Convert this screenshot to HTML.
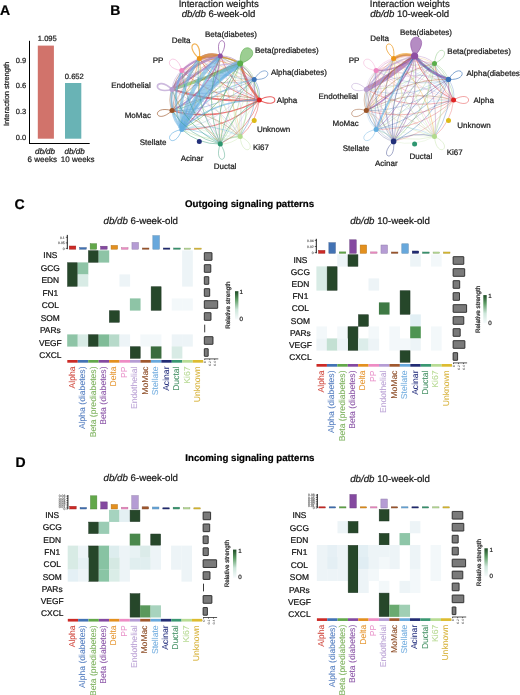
<!DOCTYPE html>
<html><head><meta charset="utf-8"><title>Figure</title>
<style>
html,body{margin:0;padding:0;background:#fff;}
body{width:520px;height:695px;overflow:hidden;}
svg{display:block;}
text{font-family:"Liberation Sans", Arial, Helvetica, sans-serif;stroke-width:0.22px;paint-order:stroke;text-rendering:geometricPrecision;}
</style></head><body>
<svg width="520" height="695" viewBox="0 0 520 695">
<rect x="0" y="0" width="520" height="695" fill="#fff"/>
<text x="0.00" y="14.50" font-size="14" font-weight="bold" fill="#000" stroke="#000">A</text>
<line x1="29.50" y1="40.80" x2="29.50" y2="143.50" stroke="#000" stroke-width="1.0"/>
<line x1="29.00" y1="143.50" x2="89.70" y2="143.50" stroke="#000" stroke-width="1.0"/>
<text x="26.20" y="62.60" font-size="7.5" text-anchor="end" fill="#222" stroke="#222">0.9</text>
<text x="26.20" y="88.40" font-size="7.5" text-anchor="end" fill="#222" stroke="#222">0.6</text>
<text x="26.20" y="114.00" font-size="7.5" text-anchor="end" fill="#222" stroke="#222">0.3</text>
<text x="26.20" y="139.60" font-size="7.5" text-anchor="end" fill="#222" stroke="#222">0.0</text>
<text transform="translate(8.60,93.90) rotate(-90)" font-size="7.5" text-anchor="middle" fill="#1a1a1a" stroke="#1a1a1a">Interaction strength</text>
<rect x="37.80" y="45.60" width="16.10" height="93.10" fill="#D1736B"/>
<rect x="65.00" y="83.00" width="16.30" height="55.70" fill="#69B3B5"/>
<text x="37.80" y="41.20" font-size="7.6" fill="#1a1a1a" stroke="#1a1a1a">1.095</text>
<text x="64.80" y="78.90" font-size="7.6" fill="#1a1a1a" stroke="#1a1a1a">0.652</text>
<text x="35.00" y="154.40" font-size="8" font-style="italic" fill="#1a1a1a" stroke="#1a1a1a">db/db</text>
<text x="27.60" y="161.50" font-size="8" fill="#1a1a1a" stroke="#1a1a1a">6 weeks</text>
<text x="64.60" y="154.40" font-size="8" font-style="italic" fill="#1a1a1a" stroke="#1a1a1a">db/db</text>
<text x="60.80" y="161.50" font-size="8" fill="#1a1a1a" stroke="#1a1a1a">10 weeks</text>
<text x="110.20" y="14.50" font-size="14" font-weight="bold" fill="#000" stroke="#000">B</text>
<text x="218.70" y="6.90" font-size="9.6" text-anchor="middle" fill="#1a1a1a" stroke="#1a1a1a">Interaction weights</text>
<text x="218.6" y="16.5" font-size="9.6" text-anchor="middle" fill="#1a1a1a" stroke="#1a1a1a"><tspan font-style="italic">db/db</tspan> 6-week-old</text>
<text x="409.80" y="6.90" font-size="9.6" text-anchor="middle" fill="#1a1a1a" stroke="#1a1a1a">Interaction weights</text>
<text x="409.7" y="16.5" font-size="9.6" text-anchor="middle" fill="#1a1a1a" stroke="#1a1a1a"><tspan font-style="italic">db/db</tspan> 10-week-old</text>
<path d="M259.3,100.0 Q252.6,90.7 254.2,79.4" fill="none" stroke="#E02424" stroke-width="0.38" stroke-opacity="0.5" stroke-linecap="butt"/>
<path d="M259.3,100.0 Q246.1,83.7 240.2,63.5" fill="none" stroke="#E02424" stroke-width="2.50" stroke-opacity="0.62" stroke-linecap="butt"/>
<path d="M259.3,100.0 Q231.0,85.8 220.3,56.0" fill="none" stroke="#E02424" stroke-width="1.00" stroke-opacity="0.5" stroke-linecap="butt"/>
<path d="M259.3,100.0 Q221.0,91.3 199.3,58.6" fill="none" stroke="#E02424" stroke-width="1.00" stroke-opacity="0.5" stroke-linecap="butt"/>
<path d="M259.3,100.0 Q214.7,100.8 181.8,70.6" fill="none" stroke="#E02424" stroke-width="0.80" stroke-opacity="0.5" stroke-linecap="butt"/>
<path d="M259.3,100.0 Q214.6,103.4 172.0,89.4" fill="none" stroke="#E02424" stroke-width="1.80" stroke-opacity="0.62" stroke-linecap="butt"/>
<path d="M259.3,100.0 Q217.8,122.8 172.0,110.6" fill="none" stroke="#E02424" stroke-width="1.50" stroke-opacity="0.62" stroke-linecap="butt"/>
<path d="M259.3,100.0 Q226.4,130.2 181.8,129.4" fill="none" stroke="#E02424" stroke-width="1.20" stroke-opacity="0.5" stroke-linecap="butt"/>
<path d="M259.3,100.0 Q248.6,129.8 220.3,144.0" fill="none" stroke="#E02424" stroke-width="0.80" stroke-opacity="0.5" stroke-linecap="butt"/>
<path d="M259.3,100.0 Q257.0,122.1 240.2,136.5" fill="none" stroke="#E02424" stroke-width="0.80" stroke-opacity="0.5" stroke-linecap="butt"/>
<path d="M254.2,79.4 Q260.9,88.7 259.3,100.0" fill="none" stroke="#3A72B8" stroke-width="0.81" stroke-opacity="0.5" stroke-linecap="butt"/>
<path d="M254.2,79.4 Q244.0,74.3 240.2,63.5" fill="none" stroke="#3A72B8" stroke-width="0.76" stroke-opacity="0.5" stroke-linecap="butt"/>
<path d="M254.2,79.4 Q232.6,74.5 220.3,56.0" fill="none" stroke="#3A72B8" stroke-width="0.45" stroke-opacity="0.5" stroke-linecap="butt"/>
<path d="M254.2,79.4 Q222.6,80.0 199.3,58.6" fill="none" stroke="#3A72B8" stroke-width="0.60" stroke-opacity="0.5" stroke-linecap="butt"/>
<path d="M254.2,79.4 Q216.3,89.5 181.8,70.6" fill="none" stroke="#3A72B8" stroke-width="0.57" stroke-opacity="0.5" stroke-linecap="butt"/>
<path d="M254.2,79.4 Q215.1,100.9 172.0,89.4" fill="none" stroke="#3A72B8" stroke-width="0.69" stroke-opacity="0.5" stroke-linecap="butt"/>
<path d="M254.2,79.4 Q219.3,111.5 172.0,110.6" fill="none" stroke="#3A72B8" stroke-width="0.77" stroke-opacity="0.5" stroke-linecap="butt"/>
<path d="M254.2,79.4 Q228.0,118.9 181.8,129.4" fill="none" stroke="#3A72B8" stroke-width="0.36" stroke-opacity="0.5" stroke-linecap="butt"/>
<path d="M254.2,79.4 Q250.2,118.5 220.3,144.0" fill="none" stroke="#3A72B8" stroke-width="0.32" stroke-opacity="0.5" stroke-linecap="butt"/>
<path d="M254.2,79.4 Q258.6,110.7 240.2,136.5" fill="none" stroke="#3A72B8" stroke-width="0.80" stroke-opacity="0.5" stroke-linecap="butt"/>
<path d="M240.2,63.5 Q257.0,77.9 259.3,100.0" fill="none" stroke="#5AAE4A" stroke-width="1.00" stroke-opacity="0.5" stroke-linecap="butt"/>
<path d="M240.2,63.5 Q250.4,68.7 254.2,79.4" fill="none" stroke="#5AAE4A" stroke-width="0.56" stroke-opacity="0.5" stroke-linecap="butt"/>
<path d="M240.2,63.5 Q228.7,63.7 220.3,56.0" fill="none" stroke="#5AAE4A" stroke-width="0.76" stroke-opacity="0.5" stroke-linecap="butt"/>
<path d="M240.2,63.5 Q220.7,52.9 199.3,58.6" fill="none" stroke="#5AAE4A" stroke-width="1.20" stroke-opacity="0.5" stroke-linecap="butt"/>
<path d="M240.2,63.5 Q212.4,78.7 181.8,70.6" fill="none" stroke="#5AAE4A" stroke-width="0.30" stroke-opacity="0.5" stroke-linecap="butt"/>
<path d="M240.2,63.5 Q206.9,78.5 172.0,89.4" fill="none" stroke="#5AAE4A" stroke-width="3.50" stroke-opacity="0.62" stroke-linecap="butt"/>
<path d="M240.2,63.5 Q215.5,100.7 172.0,110.6" fill="none" stroke="#5AAE4A" stroke-width="1.00" stroke-opacity="0.5" stroke-linecap="butt"/>
<path d="M240.2,63.5 Q224.2,108.1 181.8,129.4" fill="none" stroke="#5AAE4A" stroke-width="1.00" stroke-opacity="0.5" stroke-linecap="butt"/>
<path d="M240.2,63.5 Q246.3,107.7 220.3,144.0" fill="none" stroke="#5AAE4A" stroke-width="0.57" stroke-opacity="0.5" stroke-linecap="butt"/>
<path d="M240.2,63.5 Q254.7,100.0 240.2,136.5" fill="none" stroke="#5AAE4A" stroke-width="0.73" stroke-opacity="0.5" stroke-linecap="butt"/>
<path d="M220.3,56.0 Q248.6,70.2 259.3,100.0" fill="none" stroke="#8E4EA3" stroke-width="0.44" stroke-opacity="0.5" stroke-linecap="butt"/>
<path d="M220.3,56.0 Q242.0,60.9 254.2,79.4" fill="none" stroke="#8E4EA3" stroke-width="0.87" stroke-opacity="0.5" stroke-linecap="butt"/>
<path d="M220.3,56.0 Q231.8,55.8 240.2,63.5" fill="none" stroke="#8E4EA3" stroke-width="0.84" stroke-opacity="0.5" stroke-linecap="butt"/>
<path d="M220.3,56.0 Q209.2,52.0 199.3,58.6" fill="none" stroke="#8E4EA3" stroke-width="2.50" stroke-opacity="0.62" stroke-linecap="butt"/>
<path d="M220.3,56.0 Q198.2,55.6 181.8,70.6" fill="none" stroke="#8E4EA3" stroke-width="2.00" stroke-opacity="0.62" stroke-linecap="butt"/>
<path d="M220.3,56.0 Q189.5,63.0 172.0,89.4" fill="none" stroke="#8E4EA3" stroke-width="2.50" stroke-opacity="0.62" stroke-linecap="butt"/>
<path d="M220.3,56.0 Q197.8,75.1 172.0,89.4" fill="none" stroke="#8E4EA3" stroke-width="1.80" stroke-opacity="0.62" stroke-linecap="butt"/>
<path d="M220.3,56.0 Q207.1,93.0 172.0,110.6" fill="none" stroke="#8E4EA3" stroke-width="1.60" stroke-opacity="0.62" stroke-linecap="butt"/>
<path d="M220.3,56.0 Q215.8,100.4 181.8,129.4" fill="none" stroke="#8E4EA3" stroke-width="1.50" stroke-opacity="0.62" stroke-linecap="butt"/>
<path d="M220.3,56.0 Q237.9,100.0 220.3,144.0" fill="none" stroke="#8E4EA3" stroke-width="0.32" stroke-opacity="0.5" stroke-linecap="butt"/>
<path d="M220.3,56.0 Q246.3,92.3 240.2,136.5" fill="none" stroke="#8E4EA3" stroke-width="0.32" stroke-opacity="0.5" stroke-linecap="butt"/>
<path d="M199.3,58.6 Q237.6,67.3 259.3,100.0" fill="none" stroke="#EC9414" stroke-width="0.62" stroke-opacity="0.5" stroke-linecap="butt"/>
<path d="M199.3,58.6 Q230.9,58.0 254.2,79.4" fill="none" stroke="#EC9414" stroke-width="0.86" stroke-opacity="0.5" stroke-linecap="butt"/>
<path d="M199.3,58.6 Q220.7,52.9 240.2,63.5" fill="none" stroke="#EC9414" stroke-width="1.50" stroke-opacity="0.62" stroke-linecap="butt"/>
<path d="M199.3,58.6 Q209.2,52.0 220.3,56.0" fill="none" stroke="#EC9414" stroke-width="2.50" stroke-opacity="0.62" stroke-linecap="butt"/>
<path d="M199.3,58.6 Q193.0,68.1 181.8,70.6" fill="none" stroke="#EC9414" stroke-width="0.53" stroke-opacity="0.5" stroke-linecap="butt"/>
<path d="M199.3,58.6 Q191.8,79.4 172.0,89.4" fill="none" stroke="#EC9414" stroke-width="1.00" stroke-opacity="0.5" stroke-linecap="butt"/>
<path d="M199.3,58.6 Q193.4,88.7 172.0,110.6" fill="none" stroke="#EC9414" stroke-width="1.00" stroke-opacity="0.5" stroke-linecap="butt"/>
<path d="M199.3,58.6 Q204.7,97.5 181.8,129.4" fill="none" stroke="#EC9414" stroke-width="1.00" stroke-opacity="0.5" stroke-linecap="butt"/>
<path d="M199.3,58.6 Q226.9,97.1 220.3,144.0" fill="none" stroke="#EC9414" stroke-width="0.43" stroke-opacity="0.5" stroke-linecap="butt"/>
<path d="M199.3,58.6 Q235.3,89.3 240.2,136.5" fill="none" stroke="#EC9414" stroke-width="0.55" stroke-opacity="0.5" stroke-linecap="butt"/>
<path d="M181.8,70.6 Q226.4,69.8 259.3,100.0" fill="none" stroke="#EE86C0" stroke-width="0.32" stroke-opacity="0.5" stroke-linecap="butt"/>
<path d="M181.8,70.6 Q219.8,60.5 254.2,79.4" fill="none" stroke="#EE86C0" stroke-width="0.43" stroke-opacity="0.5" stroke-linecap="butt"/>
<path d="M181.8,70.6 Q209.6,55.4 240.2,63.5" fill="none" stroke="#EE86C0" stroke-width="0.56" stroke-opacity="0.5" stroke-linecap="butt"/>
<path d="M181.8,70.6 Q198.2,55.6 220.3,56.0" fill="none" stroke="#EE86C0" stroke-width="0.60" stroke-opacity="0.5" stroke-linecap="butt"/>
<path d="M181.8,70.6 Q188.2,61.1 199.3,58.6" fill="none" stroke="#EE86C0" stroke-width="0.44" stroke-opacity="0.5" stroke-linecap="butt"/>
<path d="M181.8,70.6 Q180.7,82.0 172.0,89.4" fill="none" stroke="#EE86C0" stroke-width="0.44" stroke-opacity="0.5" stroke-linecap="butt"/>
<path d="M181.8,70.6 Q184.9,92.6 172.0,110.6" fill="none" stroke="#EE86C0" stroke-width="0.43" stroke-opacity="0.5" stroke-linecap="butt"/>
<path d="M181.8,70.6 Q193.6,100.0 181.8,129.4" fill="none" stroke="#EE86C0" stroke-width="0.58" stroke-opacity="0.5" stroke-linecap="butt"/>
<path d="M181.8,70.6 Q215.8,99.6 220.3,144.0" fill="none" stroke="#EE86C0" stroke-width="0.47" stroke-opacity="0.5" stroke-linecap="butt"/>
<path d="M181.8,70.6 Q224.2,91.9 240.2,136.5" fill="none" stroke="#EE86C0" stroke-width="0.31" stroke-opacity="0.5" stroke-linecap="butt"/>
<path d="M172.0,89.4 Q217.8,77.2 259.3,100.0" fill="none" stroke="#B89DD0" stroke-width="0.80" stroke-opacity="0.5" stroke-linecap="butt"/>
<path d="M172.0,89.4 Q211.1,68.0 254.2,79.4" fill="none" stroke="#B89DD0" stroke-width="0.63" stroke-opacity="0.5" stroke-linecap="butt"/>
<path d="M172.0,89.4 Q200.9,62.8 240.2,63.5" fill="none" stroke="#B89DD0" stroke-width="1.50" stroke-opacity="0.62" stroke-linecap="butt"/>
<path d="M172.0,89.4 Q189.5,63.0 220.3,56.0" fill="none" stroke="#B89DD0" stroke-width="1.50" stroke-opacity="0.62" stroke-linecap="butt"/>
<path d="M172.0,89.4 Q179.5,68.5 199.3,58.6" fill="none" stroke="#B89DD0" stroke-width="1.00" stroke-opacity="0.5" stroke-linecap="butt"/>
<path d="M172.0,89.4 Q173.2,78.0 181.8,70.6" fill="none" stroke="#B89DD0" stroke-width="1.00" stroke-opacity="0.5" stroke-linecap="butt"/>
<path d="M172.0,89.4 Q176.2,100.0 172.0,110.6" fill="none" stroke="#B89DD0" stroke-width="0.69" stroke-opacity="0.5" stroke-linecap="butt"/>
<path d="M172.0,89.4 Q184.9,107.4 181.8,129.4" fill="none" stroke="#B89DD0" stroke-width="0.41" stroke-opacity="0.5" stroke-linecap="butt"/>
<path d="M172.0,89.4 Q207.1,107.0 220.3,144.0" fill="none" stroke="#B89DD0" stroke-width="0.90" stroke-opacity="0.5" stroke-linecap="butt"/>
<path d="M172.0,89.4 Q215.5,99.3 240.2,136.5" fill="none" stroke="#B89DD0" stroke-width="0.82" stroke-opacity="0.5" stroke-linecap="butt"/>
<path d="M172.0,110.6 Q213.5,87.8 259.3,100.0" fill="none" stroke="#9A5428" stroke-width="0.80" stroke-opacity="0.5" stroke-linecap="butt"/>
<path d="M172.0,110.6 Q206.9,78.6 254.2,79.4" fill="none" stroke="#9A5428" stroke-width="0.37" stroke-opacity="0.5" stroke-linecap="butt"/>
<path d="M172.0,110.6 Q196.7,73.4 240.2,63.5" fill="none" stroke="#9A5428" stroke-width="1.00" stroke-opacity="0.5" stroke-linecap="butt"/>
<path d="M172.0,110.6 Q185.2,73.6 220.3,56.0" fill="none" stroke="#9A5428" stroke-width="0.50" stroke-opacity="0.5" stroke-linecap="butt"/>
<path d="M172.0,110.6 Q175.2,79.1 199.3,58.6" fill="none" stroke="#9A5428" stroke-width="0.73" stroke-opacity="0.5" stroke-linecap="butt"/>
<path d="M172.0,110.6 Q168.9,88.6 181.8,70.6" fill="none" stroke="#9A5428" stroke-width="0.73" stroke-opacity="0.5" stroke-linecap="butt"/>
<path d="M172.0,110.6 Q167.7,100.0 172.0,89.4" fill="none" stroke="#9A5428" stroke-width="0.86" stroke-opacity="0.5" stroke-linecap="butt"/>
<path d="M172.0,110.6 Q180.7,118.0 181.8,129.4" fill="none" stroke="#9A5428" stroke-width="0.55" stroke-opacity="0.5" stroke-linecap="butt"/>
<path d="M172.0,110.6 Q202.8,117.6 220.3,144.0" fill="none" stroke="#9A5428" stroke-width="0.80" stroke-opacity="0.5" stroke-linecap="butt"/>
<path d="M172.0,110.6 Q211.2,109.9 240.2,136.5" fill="none" stroke="#9A5428" stroke-width="0.70" stroke-opacity="0.5" stroke-linecap="butt"/>
<path d="M181.8,129.4 Q214.7,99.2 259.3,100.0" fill="none" stroke="#62AEE0" stroke-width="1.50" stroke-opacity="0.62" stroke-linecap="butt"/>
<path d="M181.8,129.4 Q208.0,89.9 254.2,79.4" fill="none" stroke="#62AEE0" stroke-width="1.30" stroke-opacity="0.5" stroke-linecap="butt"/>
<path d="M181.8,129.4 Q197.8,84.8 240.2,63.5" fill="none" stroke="#62AEE0" stroke-width="8.00" stroke-opacity="0.62" stroke-linecap="butt"/>
<path d="M181.8,129.4 Q204.4,90.6 240.2,63.5" fill="none" stroke="#62AEE0" stroke-width="3.00" stroke-opacity="0.62" stroke-linecap="butt"/>
<path d="M181.8,129.4 Q186.4,85.0 220.3,56.0" fill="none" stroke="#62AEE0" stroke-width="4.00" stroke-opacity="0.62" stroke-linecap="butt"/>
<path d="M181.8,129.4 Q197.4,90.8 220.3,56.0" fill="none" stroke="#62AEE0" stroke-width="2.00" stroke-opacity="0.62" stroke-linecap="butt"/>
<path d="M181.8,129.4 Q176.4,90.5 199.3,58.6" fill="none" stroke="#62AEE0" stroke-width="3.00" stroke-opacity="0.62" stroke-linecap="butt"/>
<path d="M181.8,129.4 Q170.1,100.0 181.8,70.6" fill="none" stroke="#62AEE0" stroke-width="2.00" stroke-opacity="0.62" stroke-linecap="butt"/>
<path d="M181.8,129.4 Q168.9,111.4 172.0,89.4" fill="none" stroke="#62AEE0" stroke-width="2.00" stroke-opacity="0.62" stroke-linecap="butt"/>
<path d="M181.8,129.4 Q173.2,122.0 172.0,110.6" fill="none" stroke="#62AEE0" stroke-width="1.20" stroke-opacity="0.5" stroke-linecap="butt"/>
<path d="M181.8,129.4 Q204.0,129.0 220.3,144.0" fill="none" stroke="#62AEE0" stroke-width="0.80" stroke-opacity="0.5" stroke-linecap="butt"/>
<path d="M181.8,129.4 Q212.4,121.3 240.2,136.5" fill="none" stroke="#62AEE0" stroke-width="0.80" stroke-opacity="0.5" stroke-linecap="butt"/>
<path d="M220.3,144.0 Q231.0,114.2 259.3,100.0" fill="none" stroke="#2E9670" stroke-width="0.90" stroke-opacity="0.5" stroke-linecap="butt"/>
<path d="M220.3,144.0 Q224.4,104.9 254.2,79.4" fill="none" stroke="#2E9670" stroke-width="0.90" stroke-opacity="0.5" stroke-linecap="butt"/>
<path d="M220.3,144.0 Q214.2,99.8 240.2,63.5" fill="none" stroke="#2E9670" stroke-width="1.00" stroke-opacity="0.5" stroke-linecap="butt"/>
<path d="M220.3,144.0 Q202.7,100.0 220.3,56.0" fill="none" stroke="#2E9670" stroke-width="0.90" stroke-opacity="0.5" stroke-linecap="butt"/>
<path d="M220.3,144.0 Q192.7,105.5 199.3,58.6" fill="none" stroke="#2E9670" stroke-width="0.90" stroke-opacity="0.5" stroke-linecap="butt"/>
<path d="M220.3,144.0 Q186.4,115.0 181.8,70.6" fill="none" stroke="#2E9670" stroke-width="0.80" stroke-opacity="0.5" stroke-linecap="butt"/>
<path d="M220.3,144.0 Q185.2,126.4 172.0,89.4" fill="none" stroke="#2E9670" stroke-width="0.90" stroke-opacity="0.5" stroke-linecap="butt"/>
<path d="M220.3,144.0 Q189.5,137.0 172.0,110.6" fill="none" stroke="#2E9670" stroke-width="0.80" stroke-opacity="0.5" stroke-linecap="butt"/>
<path d="M220.3,144.0 Q198.2,144.4 181.8,129.4" fill="none" stroke="#2E9670" stroke-width="0.90" stroke-opacity="0.5" stroke-linecap="butt"/>
<path d="M220.3,144.0 Q228.7,136.3 240.2,136.5" fill="none" stroke="#2E9670" stroke-width="0.70" stroke-opacity="0.5" stroke-linecap="butt"/>
<path d="M240.2,136.5 Q242.4,114.4 259.3,100.0" fill="none" stroke="#B2DB8C" stroke-width="0.48" stroke-opacity="0.5" stroke-linecap="butt"/>
<path d="M240.2,136.5 Q235.8,105.1 254.2,79.4" fill="none" stroke="#B2DB8C" stroke-width="0.65" stroke-opacity="0.5" stroke-linecap="butt"/>
<path d="M240.2,136.5 Q225.6,100.0 240.2,63.5" fill="none" stroke="#B2DB8C" stroke-width="0.83" stroke-opacity="0.5" stroke-linecap="butt"/>
<path d="M240.2,136.5 Q214.2,100.2 220.3,56.0" fill="none" stroke="#B2DB8C" stroke-width="0.81" stroke-opacity="0.5" stroke-linecap="butt"/>
<path d="M240.2,136.5 Q204.2,105.7 199.3,58.6" fill="none" stroke="#B2DB8C" stroke-width="0.60" stroke-opacity="0.5" stroke-linecap="butt"/>
<path d="M240.2,136.5 Q197.8,115.2 181.8,70.6" fill="none" stroke="#B2DB8C" stroke-width="0.65" stroke-opacity="0.5" stroke-linecap="butt"/>
<path d="M240.2,136.5 Q196.7,126.6 172.0,89.4" fill="none" stroke="#B2DB8C" stroke-width="0.32" stroke-opacity="0.5" stroke-linecap="butt"/>
<path d="M240.2,136.5 Q200.9,137.2 172.0,110.6" fill="none" stroke="#B2DB8C" stroke-width="0.45" stroke-opacity="0.5" stroke-linecap="butt"/>
<path d="M240.2,136.5 Q209.6,144.6 181.8,129.4" fill="none" stroke="#B2DB8C" stroke-width="0.78" stroke-opacity="0.5" stroke-linecap="butt"/>
<path d="M240.2,136.5 Q231.8,144.2 220.3,144.0" fill="none" stroke="#B2DB8C" stroke-width="0.55" stroke-opacity="0.5" stroke-linecap="butt"/>
<path d="M259.3,100.0 C280.0,111.3 280.0,88.7 259.3,100.0Z" fill="none" fill-opacity="0" stroke="#E02424" stroke-width="1.1" stroke-opacity="0.7"/>
<path d="M254.2,79.4 C277.6,80.9 266.3,59.4 254.2,79.4Z" fill="none" fill-opacity="0" stroke="#3A72B8" stroke-width="0.8" stroke-opacity="0.7"/>
<path d="M240.2,63.5 C269.5,54.6 238.1,33.0 240.2,63.5Z" fill="#5AAE4A" fill-opacity="0.6" stroke="#5AAE4A" stroke-width="0.8" stroke-opacity="0.7"/>
<path d="M220.3,56.0 C233.2,36.8 212.5,34.3 220.3,56.0Z" fill="none" fill-opacity="0" stroke="#8E4EA3" stroke-width="1.0" stroke-opacity="0.7"/>
<path d="M199.3,58.6 C202.5,35.3 181.4,43.2 199.3,58.6Z" fill="none" fill-opacity="0" stroke="#EC9414" stroke-width="1.2" stroke-opacity="0.7"/>
<path d="M181.8,70.6 C175.6,46.5 157.2,67.3 181.8,70.6Z" fill="none" fill-opacity="0" stroke="#EE86C0" stroke-width="0.6" stroke-opacity="0.7"/>
<path d="M172.0,89.4 C155.3,73.7 149.9,95.5 172.0,89.4Z" fill="none" fill-opacity="0" stroke="#B89DD0" stroke-width="1.6" stroke-opacity="0.7"/>
<path d="M172.0,110.6 C149.9,104.5 155.3,126.3 172.0,110.6Z" fill="none" fill-opacity="0" stroke="#9A5428" stroke-width="0.9" stroke-opacity="0.7"/>
<path d="M181.8,129.4 C158.3,134.0 174.4,152.2 181.8,129.4Z" fill="none" fill-opacity="0" stroke="#62AEE0" stroke-width="0.9" stroke-opacity="0.7"/>
<path d="M220.3,144.0 C212.5,165.7 233.2,163.2 220.3,144.0Z" fill="none" fill-opacity="0" stroke="#2E9670" stroke-width="0.6" stroke-opacity="0.7"/>
<path d="M240.2,136.5 C241.9,160.4 261.9,146.6 240.2,136.5Z" fill="none" fill-opacity="0" stroke="#B2DB8C" stroke-width="0.5" stroke-opacity="0.7"/>
<circle cx="259.3" cy="100.0" r="2.5" fill="#E02424"/>
<circle cx="254.2" cy="79.4" r="2.5" fill="#3A72B8"/>
<circle cx="240.2" cy="63.5" r="3.0" fill="#5AAE4A"/>
<circle cx="220.3" cy="56.0" r="2.5" fill="#8E4EA3"/>
<circle cx="199.3" cy="58.6" r="2.5" fill="#EC9414"/>
<circle cx="181.8" cy="70.6" r="2.5" fill="#EE86C0"/>
<circle cx="172.0" cy="89.4" r="2.5" fill="#B89DD0"/>
<circle cx="172.0" cy="110.6" r="2.5" fill="#9A5428"/>
<circle cx="181.8" cy="129.4" r="2.5" fill="#62AEE0"/>
<circle cx="199.3" cy="141.4" r="2.5" fill="#22307A"/>
<circle cx="220.3" cy="144.0" r="2.5" fill="#2E9670"/>
<circle cx="240.2" cy="136.5" r="2.5" fill="#B2DB8C"/>
<circle cx="254.2" cy="120.6" r="2.5" fill="#DDBA18"/>
<path d="M453.6,100.0 Q446.9,90.7 448.5,79.4" fill="none" stroke="#E02424" stroke-width="0.73" stroke-opacity="0.5" stroke-linecap="butt"/>
<path d="M453.6,100.0 Q436.7,85.6 434.5,63.5" fill="none" stroke="#E02424" stroke-width="0.72" stroke-opacity="0.5" stroke-linecap="butt"/>
<path d="M453.6,100.0 Q425.3,85.8 414.6,56.0" fill="none" stroke="#E02424" stroke-width="1.00" stroke-opacity="0.5" stroke-linecap="butt"/>
<path d="M453.6,100.0 Q415.3,91.3 393.6,58.6" fill="none" stroke="#E02424" stroke-width="0.28" stroke-opacity="0.5" stroke-linecap="butt"/>
<path d="M453.6,100.0 Q409.0,100.8 376.1,70.6" fill="none" stroke="#E02424" stroke-width="0.29" stroke-opacity="0.5" stroke-linecap="butt"/>
<path d="M453.6,100.0 Q407.8,112.2 366.3,89.4" fill="none" stroke="#E02424" stroke-width="0.67" stroke-opacity="0.5" stroke-linecap="butt"/>
<path d="M453.6,100.0 Q412.1,122.8 366.3,110.6" fill="none" stroke="#E02424" stroke-width="0.62" stroke-opacity="0.5" stroke-linecap="butt"/>
<path d="M453.6,100.0 Q420.7,130.2 376.1,129.4" fill="none" stroke="#E02424" stroke-width="0.58" stroke-opacity="0.5" stroke-linecap="butt"/>
<path d="M453.6,100.0 Q431.9,132.7 393.6,141.4" fill="none" stroke="#E02424" stroke-width="0.40" stroke-opacity="0.5" stroke-linecap="butt"/>
<path d="M453.6,100.0 Q451.3,122.1 434.5,136.5" fill="none" stroke="#E02424" stroke-width="0.55" stroke-opacity="0.5" stroke-linecap="butt"/>
<path d="M448.5,79.4 Q455.2,88.7 453.6,100.0" fill="none" stroke="#3A72B8" stroke-width="0.55" stroke-opacity="0.5" stroke-linecap="butt"/>
<path d="M448.5,79.4 Q438.3,74.3 434.5,63.5" fill="none" stroke="#3A72B8" stroke-width="0.54" stroke-opacity="0.5" stroke-linecap="butt"/>
<path d="M448.5,79.4 Q428.1,72.8 414.6,56.0" fill="none" stroke="#3A72B8" stroke-width="3.00" stroke-opacity="0.62" stroke-linecap="butt"/>
<path d="M448.5,79.4 Q416.9,80.0 393.6,58.6" fill="none" stroke="#3A72B8" stroke-width="0.33" stroke-opacity="0.5" stroke-linecap="butt"/>
<path d="M448.5,79.4 Q410.6,89.5 376.1,70.6" fill="none" stroke="#3A72B8" stroke-width="0.47" stroke-opacity="0.5" stroke-linecap="butt"/>
<path d="M448.5,79.4 Q409.4,100.9 366.3,89.4" fill="none" stroke="#3A72B8" stroke-width="0.45" stroke-opacity="0.5" stroke-linecap="butt"/>
<path d="M448.5,79.4 Q413.6,111.5 366.3,110.6" fill="none" stroke="#3A72B8" stroke-width="0.61" stroke-opacity="0.5" stroke-linecap="butt"/>
<path d="M448.5,79.4 Q422.3,118.9 376.1,129.4" fill="none" stroke="#3A72B8" stroke-width="0.75" stroke-opacity="0.5" stroke-linecap="butt"/>
<path d="M448.5,79.4 Q433.5,121.4 393.6,141.4" fill="none" stroke="#3A72B8" stroke-width="0.80" stroke-opacity="0.5" stroke-linecap="butt"/>
<path d="M448.5,79.4 Q452.9,110.7 434.5,136.5" fill="none" stroke="#3A72B8" stroke-width="0.72" stroke-opacity="0.5" stroke-linecap="butt"/>
<path d="M434.5,63.5 Q451.3,77.9 453.6,100.0" fill="none" stroke="#5AAE4A" stroke-width="0.52" stroke-opacity="0.5" stroke-linecap="butt"/>
<path d="M434.5,63.5 Q444.7,68.7 448.5,79.4" fill="none" stroke="#5AAE4A" stroke-width="0.47" stroke-opacity="0.5" stroke-linecap="butt"/>
<path d="M434.5,63.5 Q423.0,63.7 414.6,56.0" fill="none" stroke="#5AAE4A" stroke-width="0.38" stroke-opacity="0.5" stroke-linecap="butt"/>
<path d="M434.5,63.5 Q413.0,69.2 393.6,58.6" fill="none" stroke="#5AAE4A" stroke-width="0.27" stroke-opacity="0.5" stroke-linecap="butt"/>
<path d="M434.5,63.5 Q406.7,78.7 376.1,70.6" fill="none" stroke="#5AAE4A" stroke-width="0.26" stroke-opacity="0.5" stroke-linecap="butt"/>
<path d="M434.5,63.5 Q405.5,90.1 366.3,89.4" fill="none" stroke="#5AAE4A" stroke-width="0.48" stroke-opacity="0.5" stroke-linecap="butt"/>
<path d="M434.5,63.5 Q409.8,100.7 366.3,110.6" fill="none" stroke="#5AAE4A" stroke-width="0.41" stroke-opacity="0.5" stroke-linecap="butt"/>
<path d="M434.5,63.5 Q418.5,108.1 376.1,129.4" fill="none" stroke="#5AAE4A" stroke-width="0.44" stroke-opacity="0.5" stroke-linecap="butt"/>
<path d="M434.5,63.5 Q429.6,110.7 393.6,141.4" fill="none" stroke="#5AAE4A" stroke-width="0.70" stroke-opacity="0.5" stroke-linecap="butt"/>
<path d="M434.5,63.5 Q449.0,100.0 434.5,136.5" fill="none" stroke="#5AAE4A" stroke-width="0.51" stroke-opacity="0.5" stroke-linecap="butt"/>
<path d="M414.6,56.0 Q442.9,70.2 453.6,100.0" fill="none" stroke="#8E4EA3" stroke-width="0.90" stroke-opacity="0.5" stroke-linecap="butt"/>
<path d="M414.6,56.0 Q428.1,72.8 448.5,79.4" fill="none" stroke="#8E4EA3" stroke-width="1.50" stroke-opacity="0.62" stroke-linecap="butt"/>
<path d="M414.6,56.0 Q426.1,55.8 434.5,63.5" fill="none" stroke="#8E4EA3" stroke-width="0.53" stroke-opacity="0.5" stroke-linecap="butt"/>
<path d="M414.6,56.0 Q403.6,53.1 393.6,58.6" fill="none" stroke="#8E4EA3" stroke-width="1.50" stroke-opacity="0.62" stroke-linecap="butt"/>
<path d="M414.6,56.0 Q398.3,71.0 376.1,70.6" fill="none" stroke="#8E4EA3" stroke-width="1.50" stroke-opacity="0.62" stroke-linecap="butt"/>
<path d="M414.6,56.0 Q392.5,75.6 366.3,89.4" fill="none" stroke="#8E4EA3" stroke-width="5.00" stroke-opacity="0.62" stroke-linecap="butt"/>
<path d="M414.6,56.0 Q401.4,93.0 366.3,110.6" fill="none" stroke="#8E4EA3" stroke-width="1.50" stroke-opacity="0.62" stroke-linecap="butt"/>
<path d="M414.6,56.0 Q410.1,100.4 376.1,129.4" fill="none" stroke="#8E4EA3" stroke-width="0.90" stroke-opacity="0.5" stroke-linecap="butt"/>
<path d="M414.6,56.0 Q421.2,102.9 393.6,141.4" fill="none" stroke="#8E4EA3" stroke-width="0.90" stroke-opacity="0.5" stroke-linecap="butt"/>
<path d="M414.6,56.0 Q440.6,92.3 434.5,136.5" fill="none" stroke="#8E4EA3" stroke-width="0.60" stroke-opacity="0.5" stroke-linecap="butt"/>
<path d="M393.6,58.6 Q431.9,67.3 453.6,100.0" fill="none" stroke="#EC9414" stroke-width="0.37" stroke-opacity="0.5" stroke-linecap="butt"/>
<path d="M393.6,58.6 Q425.2,58.0 448.5,79.4" fill="none" stroke="#EC9414" stroke-width="0.26" stroke-opacity="0.5" stroke-linecap="butt"/>
<path d="M393.6,58.6 Q415.0,52.9 434.5,63.5" fill="none" stroke="#EC9414" stroke-width="0.41" stroke-opacity="0.5" stroke-linecap="butt"/>
<path d="M393.6,58.6 Q403.5,52.0 414.6,56.0" fill="none" stroke="#EC9414" stroke-width="2.80" stroke-opacity="0.62" stroke-linecap="butt"/>
<path d="M393.6,58.6 Q387.3,68.1 376.1,70.6" fill="none" stroke="#EC9414" stroke-width="0.32" stroke-opacity="0.5" stroke-linecap="butt"/>
<path d="M393.6,58.6 Q386.1,79.4 366.3,89.4" fill="none" stroke="#EC9414" stroke-width="0.51" stroke-opacity="0.5" stroke-linecap="butt"/>
<path d="M393.6,58.6 Q390.3,90.1 366.3,110.6" fill="none" stroke="#EC9414" stroke-width="0.75" stroke-opacity="0.5" stroke-linecap="butt"/>
<path d="M393.6,58.6 Q399.0,97.5 376.1,129.4" fill="none" stroke="#EC9414" stroke-width="0.59" stroke-opacity="0.5" stroke-linecap="butt"/>
<path d="M393.6,58.6 Q410.2,100.0 393.6,141.4" fill="none" stroke="#EC9414" stroke-width="0.34" stroke-opacity="0.5" stroke-linecap="butt"/>
<path d="M393.6,58.6 Q429.6,89.3 434.5,136.5" fill="none" stroke="#EC9414" stroke-width="0.70" stroke-opacity="0.5" stroke-linecap="butt"/>
<path d="M376.1,70.6 Q420.7,69.8 453.6,100.0" fill="none" stroke="#EE86C0" stroke-width="0.65" stroke-opacity="0.5" stroke-linecap="butt"/>
<path d="M376.1,70.6 Q414.1,60.5 448.5,79.4" fill="none" stroke="#EE86C0" stroke-width="0.62" stroke-opacity="0.5" stroke-linecap="butt"/>
<path d="M376.1,70.6 Q403.9,55.4 434.5,63.5" fill="none" stroke="#EE86C0" stroke-width="0.70" stroke-opacity="0.5" stroke-linecap="butt"/>
<path d="M376.1,70.6 Q392.5,55.6 414.6,56.0" fill="none" stroke="#EE86C0" stroke-width="0.63" stroke-opacity="0.5" stroke-linecap="butt"/>
<path d="M376.1,70.6 Q382.5,61.1 393.6,58.6" fill="none" stroke="#EE86C0" stroke-width="0.64" stroke-opacity="0.5" stroke-linecap="butt"/>
<path d="M376.1,70.6 Q375.0,82.0 366.3,89.4" fill="none" stroke="#EE86C0" stroke-width="0.43" stroke-opacity="0.5" stroke-linecap="butt"/>
<path d="M376.1,70.6 Q379.2,92.6 366.3,110.6" fill="none" stroke="#EE86C0" stroke-width="0.74" stroke-opacity="0.5" stroke-linecap="butt"/>
<path d="M376.1,70.6 Q387.9,100.0 376.1,129.4" fill="none" stroke="#EE86C0" stroke-width="0.73" stroke-opacity="0.5" stroke-linecap="butt"/>
<path d="M376.1,70.6 Q399.0,102.5 393.6,141.4" fill="none" stroke="#EE86C0" stroke-width="0.33" stroke-opacity="0.5" stroke-linecap="butt"/>
<path d="M376.1,70.6 Q418.5,91.9 434.5,136.5" fill="none" stroke="#EE86C0" stroke-width="0.63" stroke-opacity="0.5" stroke-linecap="butt"/>
<path d="M366.3,89.4 Q412.1,77.2 453.6,100.0" fill="none" stroke="#B89DD0" stroke-width="0.61" stroke-opacity="0.5" stroke-linecap="butt"/>
<path d="M366.3,89.4 Q405.4,68.0 448.5,79.4" fill="none" stroke="#B89DD0" stroke-width="0.80" stroke-opacity="0.5" stroke-linecap="butt"/>
<path d="M366.3,89.4 Q395.2,62.8 434.5,63.5" fill="none" stroke="#B89DD0" stroke-width="0.48" stroke-opacity="0.5" stroke-linecap="butt"/>
<path d="M366.3,89.4 Q383.8,63.0 414.6,56.0" fill="none" stroke="#B89DD0" stroke-width="1.50" stroke-opacity="0.62" stroke-linecap="butt"/>
<path d="M366.3,89.4 Q373.8,68.5 393.6,58.6" fill="none" stroke="#B89DD0" stroke-width="0.52" stroke-opacity="0.5" stroke-linecap="butt"/>
<path d="M366.3,89.4 Q367.5,78.0 376.1,70.6" fill="none" stroke="#B89DD0" stroke-width="0.50" stroke-opacity="0.5" stroke-linecap="butt"/>
<path d="M366.3,89.4 Q370.5,100.0 366.3,110.6" fill="none" stroke="#B89DD0" stroke-width="0.71" stroke-opacity="0.5" stroke-linecap="butt"/>
<path d="M366.3,89.4 Q379.2,107.4 376.1,129.4" fill="none" stroke="#B89DD0" stroke-width="0.50" stroke-opacity="0.5" stroke-linecap="butt"/>
<path d="M366.3,89.4 Q390.3,109.9 393.6,141.4" fill="none" stroke="#B89DD0" stroke-width="0.67" stroke-opacity="0.5" stroke-linecap="butt"/>
<path d="M366.3,89.4 Q409.8,99.3 434.5,136.5" fill="none" stroke="#B89DD0" stroke-width="0.43" stroke-opacity="0.5" stroke-linecap="butt"/>
<path d="M366.3,110.6 Q407.8,87.8 453.6,100.0" fill="none" stroke="#9A5428" stroke-width="0.69" stroke-opacity="0.5" stroke-linecap="butt"/>
<path d="M366.3,110.6 Q401.2,78.6 448.5,79.4" fill="none" stroke="#9A5428" stroke-width="0.80" stroke-opacity="0.5" stroke-linecap="butt"/>
<path d="M366.3,110.6 Q391.0,73.4 434.5,63.5" fill="none" stroke="#9A5428" stroke-width="0.70" stroke-opacity="0.5" stroke-linecap="butt"/>
<path d="M366.3,110.6 Q379.5,73.6 414.6,56.0" fill="none" stroke="#9A5428" stroke-width="1.20" stroke-opacity="0.5" stroke-linecap="butt"/>
<path d="M366.3,110.6 Q369.5,79.1 393.6,58.6" fill="none" stroke="#9A5428" stroke-width="0.48" stroke-opacity="0.5" stroke-linecap="butt"/>
<path d="M366.3,110.6 Q363.2,88.6 376.1,70.6" fill="none" stroke="#9A5428" stroke-width="0.53" stroke-opacity="0.5" stroke-linecap="butt"/>
<path d="M366.3,110.6 Q362.0,100.0 366.3,89.4" fill="none" stroke="#9A5428" stroke-width="0.71" stroke-opacity="0.5" stroke-linecap="butt"/>
<path d="M366.3,110.6 Q375.0,118.0 376.1,129.4" fill="none" stroke="#9A5428" stroke-width="0.61" stroke-opacity="0.5" stroke-linecap="butt"/>
<path d="M366.3,110.6 Q386.1,120.6 393.6,141.4" fill="none" stroke="#9A5428" stroke-width="0.49" stroke-opacity="0.5" stroke-linecap="butt"/>
<path d="M366.3,110.6 Q405.5,109.9 434.5,136.5" fill="none" stroke="#9A5428" stroke-width="0.36" stroke-opacity="0.5" stroke-linecap="butt"/>
<path d="M376.1,129.4 Q409.0,99.2 453.6,100.0" fill="none" stroke="#62AEE0" stroke-width="0.41" stroke-opacity="0.5" stroke-linecap="butt"/>
<path d="M376.1,129.4 Q402.3,89.9 448.5,79.4" fill="none" stroke="#62AEE0" stroke-width="0.60" stroke-opacity="0.5" stroke-linecap="butt"/>
<path d="M376.1,129.4 Q392.1,84.8 434.5,63.5" fill="none" stroke="#62AEE0" stroke-width="0.33" stroke-opacity="0.5" stroke-linecap="butt"/>
<path d="M376.1,129.4 Q391.7,90.8 414.6,56.0" fill="none" stroke="#62AEE0" stroke-width="2.00" stroke-opacity="0.62" stroke-linecap="butt"/>
<path d="M376.1,129.4 Q370.7,90.5 393.6,58.6" fill="none" stroke="#62AEE0" stroke-width="0.70" stroke-opacity="0.5" stroke-linecap="butt"/>
<path d="M376.1,129.4 Q364.4,100.0 376.1,70.6" fill="none" stroke="#62AEE0" stroke-width="0.38" stroke-opacity="0.5" stroke-linecap="butt"/>
<path d="M376.1,129.4 Q363.2,111.4 366.3,89.4" fill="none" stroke="#62AEE0" stroke-width="0.71" stroke-opacity="0.5" stroke-linecap="butt"/>
<path d="M376.1,129.4 Q367.5,122.0 366.3,110.6" fill="none" stroke="#62AEE0" stroke-width="0.40" stroke-opacity="0.5" stroke-linecap="butt"/>
<path d="M376.1,129.4 Q387.3,131.9 393.6,141.4" fill="none" stroke="#62AEE0" stroke-width="0.73" stroke-opacity="0.5" stroke-linecap="butt"/>
<path d="M376.1,129.4 Q406.7,121.3 434.5,136.5" fill="none" stroke="#62AEE0" stroke-width="0.60" stroke-opacity="0.5" stroke-linecap="butt"/>
<path d="M393.6,141.4 Q415.3,108.7 453.6,100.0" fill="none" stroke="#22307A" stroke-width="0.50" stroke-opacity="0.5" stroke-linecap="butt"/>
<path d="M393.6,141.4 Q408.7,99.4 448.5,79.4" fill="none" stroke="#22307A" stroke-width="0.70" stroke-opacity="0.5" stroke-linecap="butt"/>
<path d="M393.6,141.4 Q398.5,94.3 434.5,63.5" fill="none" stroke="#22307A" stroke-width="0.51" stroke-opacity="0.5" stroke-linecap="butt"/>
<path d="M393.6,141.4 Q387.0,94.5 414.6,56.0" fill="none" stroke="#22307A" stroke-width="0.90" stroke-opacity="0.5" stroke-linecap="butt"/>
<path d="M393.6,141.4 Q377.0,100.0 393.6,58.6" fill="none" stroke="#22307A" stroke-width="0.58" stroke-opacity="0.5" stroke-linecap="butt"/>
<path d="M393.6,141.4 Q370.7,109.5 376.1,70.6" fill="none" stroke="#22307A" stroke-width="0.54" stroke-opacity="0.5" stroke-linecap="butt"/>
<path d="M393.6,141.4 Q369.5,120.9 366.3,89.4" fill="none" stroke="#22307A" stroke-width="0.41" stroke-opacity="0.5" stroke-linecap="butt"/>
<path d="M393.6,141.4 Q373.8,131.5 366.3,110.6" fill="none" stroke="#22307A" stroke-width="0.35" stroke-opacity="0.5" stroke-linecap="butt"/>
<path d="M393.6,141.4 Q382.5,138.9 376.1,129.4" fill="none" stroke="#22307A" stroke-width="0.51" stroke-opacity="0.5" stroke-linecap="butt"/>
<path d="M393.6,141.4 Q413.0,130.8 434.5,136.5" fill="none" stroke="#22307A" stroke-width="0.72" stroke-opacity="0.5" stroke-linecap="butt"/>
<path d="M434.5,136.5 Q436.7,114.4 453.6,100.0" fill="none" stroke="#B2DB8C" stroke-width="0.56" stroke-opacity="0.5" stroke-linecap="butt"/>
<path d="M434.5,136.5 Q430.1,105.1 448.5,79.4" fill="none" stroke="#B2DB8C" stroke-width="0.29" stroke-opacity="0.5" stroke-linecap="butt"/>
<path d="M434.5,136.5 Q419.9,100.0 434.5,63.5" fill="none" stroke="#B2DB8C" stroke-width="0.66" stroke-opacity="0.5" stroke-linecap="butt"/>
<path d="M434.5,136.5 Q408.5,100.2 414.6,56.0" fill="none" stroke="#B2DB8C" stroke-width="0.61" stroke-opacity="0.5" stroke-linecap="butt"/>
<path d="M434.5,136.5 Q398.5,105.7 393.6,58.6" fill="none" stroke="#B2DB8C" stroke-width="0.70" stroke-opacity="0.5" stroke-linecap="butt"/>
<path d="M434.5,136.5 Q392.1,115.2 376.1,70.6" fill="none" stroke="#B2DB8C" stroke-width="0.35" stroke-opacity="0.5" stroke-linecap="butt"/>
<path d="M434.5,136.5 Q391.0,126.6 366.3,89.4" fill="none" stroke="#B2DB8C" stroke-width="0.62" stroke-opacity="0.5" stroke-linecap="butt"/>
<path d="M434.5,136.5 Q395.2,137.2 366.3,110.6" fill="none" stroke="#B2DB8C" stroke-width="0.28" stroke-opacity="0.5" stroke-linecap="butt"/>
<path d="M434.5,136.5 Q403.9,144.6 376.1,129.4" fill="none" stroke="#B2DB8C" stroke-width="0.58" stroke-opacity="0.5" stroke-linecap="butt"/>
<path d="M434.5,136.5 Q415.0,147.1 393.6,141.4" fill="none" stroke="#B2DB8C" stroke-width="0.39" stroke-opacity="0.5" stroke-linecap="butt"/>
<path d="M453.6,100.0 C473.6,112.1 473.6,87.9 453.6,100.0Z" fill="none" fill-opacity="0" stroke="#E02424" stroke-width="0.6" stroke-opacity="0.7"/>
<path d="M448.5,79.4 C471.9,80.9 460.6,59.4 448.5,79.4Z" fill="none" fill-opacity="0" stroke="#3A72B8" stroke-width="0.9" stroke-opacity="0.7"/>
<path d="M434.5,63.5 C456.2,53.4 436.2,39.6 434.5,63.5Z" fill="none" fill-opacity="0" stroke="#5AAE4A" stroke-width="0.5" stroke-opacity="0.7"/>
<path d="M414.6,56.0 C436.6,33.2 398.8,28.6 414.6,56.0Z" fill="#8E4EA3" fill-opacity="0.65" stroke="#8E4EA3" stroke-width="0.8" stroke-opacity="0.7"/>
<path d="M393.6,58.6 C396.8,35.3 375.7,43.2 393.6,58.6Z" fill="none" fill-opacity="0" stroke="#EC9414" stroke-width="1.0" stroke-opacity="0.7"/>
<path d="M376.1,70.6 C369.9,46.5 351.5,67.3 376.1,70.6Z" fill="none" fill-opacity="0" stroke="#EE86C0" stroke-width="0.5" stroke-opacity="0.7"/>
<path d="M366.3,89.4 C349.8,72.8 344.0,96.4 366.3,89.4Z" fill="none" fill-opacity="0" stroke="#B89DD0" stroke-width="0.7" stroke-opacity="0.7"/>
<path d="M366.3,110.6 C344.0,103.6 349.8,127.2 366.3,110.6Z" fill="none" fill-opacity="0" stroke="#9A5428" stroke-width="0.7" stroke-opacity="0.7"/>
<path d="M376.1,129.4 C352.6,134.0 368.7,152.2 376.1,129.4Z" fill="none" fill-opacity="0" stroke="#62AEE0" stroke-width="0.6" stroke-opacity="0.7"/>
<path d="M393.6,141.4 C376.5,157.1 396.0,164.4 393.6,141.4Z" fill="none" fill-opacity="0" stroke="#22307A" stroke-width="0.6" stroke-opacity="0.7"/>
<path d="M434.5,136.5 C436.2,160.4 456.2,146.6 434.5,136.5Z" fill="none" fill-opacity="0" stroke="#B2DB8C" stroke-width="0.5" stroke-opacity="0.7"/>
<circle cx="453.6" cy="100.0" r="2.5" fill="#E02424"/>
<circle cx="448.5" cy="79.4" r="2.7" fill="#3A72B8"/>
<circle cx="434.5" cy="63.5" r="2.5" fill="#5AAE4A"/>
<circle cx="414.6" cy="56.0" r="3.6" fill="#8E4EA3"/>
<circle cx="393.6" cy="58.6" r="2.5" fill="#EC9414"/>
<circle cx="376.1" cy="70.6" r="2.5" fill="#EE86C0"/>
<circle cx="366.3" cy="89.4" r="2.5" fill="#B89DD0"/>
<circle cx="366.3" cy="110.6" r="2.5" fill="#9A5428"/>
<circle cx="376.1" cy="129.4" r="2.5" fill="#62AEE0"/>
<circle cx="393.6" cy="141.4" r="2.8" fill="#22307A"/>
<circle cx="414.6" cy="144.0" r="2.5" fill="#2E9670"/>
<circle cx="434.5" cy="136.5" r="2.5" fill="#B2DB8C"/>
<circle cx="448.5" cy="120.6" r="2.5" fill="#DDBA18"/>
<text x="171.70" y="42.60" font-size="8" fill="#1a1a1a" stroke="#1a1a1a">Delta</text>
<text x="205.00" y="37.10" font-size="8" fill="#1a1a1a" stroke="#1a1a1a">Beta(diabetes)</text>
<text x="255.00" y="53.40" font-size="8" fill="#1a1a1a" stroke="#1a1a1a">Beta(prediabetes)</text>
<text x="270.90" y="75.20" font-size="8" fill="#1a1a1a" stroke="#1a1a1a">Alpha(diabetes)</text>
<text x="276.80" y="102.60" font-size="8" fill="#1a1a1a" stroke="#1a1a1a">Alpha</text>
<text x="256.90" y="132.00" font-size="8" fill="#1a1a1a" stroke="#1a1a1a">Unknown</text>
<text x="252.90" y="150.30" font-size="8" fill="#1a1a1a" stroke="#1a1a1a">Ki67</text>
<text x="213.70" y="168.70" font-size="8" fill="#1a1a1a" stroke="#1a1a1a">Ductal</text>
<text x="180.70" y="161.00" font-size="8" fill="#1a1a1a" stroke="#1a1a1a">Acinar</text>
<text x="139.70" y="145.00" font-size="8" fill="#1a1a1a" stroke="#1a1a1a">Stellate</text>
<text x="124.70" y="117.60" font-size="8" fill="#1a1a1a" stroke="#1a1a1a">MoMac</text>
<text x="111.20" y="88.40" font-size="8" fill="#1a1a1a" stroke="#1a1a1a">Endothelial</text>
<text x="152.70" y="62.50" font-size="8" fill="#1a1a1a" stroke="#1a1a1a">PP</text>
<text x="370.30" y="40.80" font-size="8" fill="#1a1a1a" stroke="#1a1a1a">Delta</text>
<text x="400.00" y="34.50" font-size="8" fill="#1a1a1a" stroke="#1a1a1a">Beta(diabetes)</text>
<text x="447.30" y="54.00" font-size="8" fill="#1a1a1a" stroke="#1a1a1a">Beta(prediabetes)</text>
<text x="466.50" y="75.60" font-size="8" fill="#1a1a1a" stroke="#1a1a1a">Alpha(diabetes)</text>
<text x="473.40" y="102.80" font-size="8" fill="#1a1a1a" stroke="#1a1a1a">Alpha</text>
<text x="457.30" y="128.10" font-size="8" fill="#1a1a1a" stroke="#1a1a1a">Unknown</text>
<text x="446.70" y="154.60" font-size="8" fill="#1a1a1a" stroke="#1a1a1a">Ki67</text>
<text x="409.60" y="159.40" font-size="8" fill="#1a1a1a" stroke="#1a1a1a">Ductal</text>
<text x="375.00" y="166.20" font-size="8" fill="#1a1a1a" stroke="#1a1a1a">Acinar</text>
<text x="342.70" y="150.80" font-size="8" fill="#1a1a1a" stroke="#1a1a1a">Stellate</text>
<text x="332.50" y="126.20" font-size="8" fill="#1a1a1a" stroke="#1a1a1a">MoMac</text>
<text x="318.50" y="99.20" font-size="8" fill="#1a1a1a" stroke="#1a1a1a">Endothelial</text>
<text x="348.70" y="62.60" font-size="8" fill="#1a1a1a" stroke="#1a1a1a">PP</text>
<text x="14.40" y="208.80" font-size="14" font-weight="bold" fill="#000" stroke="#000">C</text>
<text x="185.00" y="207.40" font-size="9.7" font-weight="bold" fill="#000" stroke="#000">Outgoing signaling patterns</text>
<text x="15.40" y="467.00" font-size="14" font-weight="bold" fill="#000" stroke="#000">D</text>
<text x="185.30" y="461.20" font-size="9.7" font-weight="bold" fill="#000" stroke="#000">Incoming signaling patterns</text>
<text x="103.6" y="223.6" font-size="9.7" fill="#1a1a1a" stroke="#1a1a1a"><tspan font-style="italic">db/db</tspan> 6-week-old</text>
<text x="350.2" y="224.3" font-size="9.7" fill="#1a1a1a" stroke="#1a1a1a"><tspan font-style="italic">db/db</tspan> 10-week-old</text>
<text x="103.6" y="480.9" font-size="9.7" fill="#1a1a1a" stroke="#1a1a1a"><tspan font-style="italic">db/db</tspan> 6-week-old</text>
<text x="350.2" y="481.5" font-size="9.7" fill="#1a1a1a" stroke="#1a1a1a"><tspan font-style="italic">db/db</tspan> 10-week-old</text>
<rect x="69.25" y="246.00" width="6.55" height="3.20" fill="#CC2A26" stroke="#9f201d" stroke-width="0.45"/>
<rect x="79.70" y="247.60" width="6.55" height="1.60" fill="#4272B4" stroke="#33588c" stroke-width="0.45"/>
<rect x="90.15" y="243.70" width="6.55" height="5.50" fill="#62A84A" stroke="#4c8339" stroke-width="0.45"/>
<rect x="100.60" y="246.20" width="6.55" height="3.00" fill="#8449A0" stroke="#66387c" stroke-width="0.45"/>
<rect x="111.05" y="245.40" width="6.55" height="3.80" fill="#E3901E" stroke="#b17017" stroke-width="0.45"/>
<rect x="121.50" y="247.70" width="6.55" height="1.50" fill="#EE8CC4" stroke="#b96d98" stroke-width="0.45"/>
<rect x="131.95" y="242.50" width="6.55" height="6.70" fill="#B59CD4" stroke="#8d79a5" stroke-width="0.45"/>
<rect x="142.40" y="248.00" width="6.55" height="1.20" fill="#A0582E" stroke="#7c4423" stroke-width="0.45"/>
<rect x="152.85" y="235.70" width="6.55" height="13.50" fill="#68A8DC" stroke="#5183ab" stroke-width="0.45"/>
<rect x="163.30" y="248.00" width="6.55" height="1.20" fill="#222C74" stroke="#1a225a" stroke-width="0.45"/>
<rect x="173.75" y="248.00" width="6.55" height="1.20" fill="#3A9872" stroke="#2d7658" stroke-width="0.45"/>
<rect x="184.20" y="248.10" width="6.55" height="1.10" fill="#B8DC94" stroke="#8fab73" stroke-width="0.45"/>
<rect x="194.65" y="248.10" width="6.55" height="1.10" fill="#DDBC30" stroke="#ac9225" stroke-width="0.45"/>
<line x1="67.30" y1="234.90" x2="67.30" y2="249.20" stroke="#000" stroke-width="0.9"/>
<line x1="65.80" y1="237.30" x2="67.30" y2="237.30" stroke="#000" stroke-width="0.6"/>
<text x="64.70" y="238.50" font-size="3.4" text-anchor="end" fill="#777" stroke="#777">0.1</text>
<line x1="65.80" y1="242.90" x2="67.30" y2="242.90" stroke="#000" stroke-width="0.6"/>
<text x="64.70" y="244.10" font-size="3.4" text-anchor="end" fill="#777" stroke="#777">0.05</text>
<line x1="65.80" y1="248.40" x2="67.30" y2="248.40" stroke="#000" stroke-width="0.6"/>
<text x="64.70" y="249.60" font-size="3.4" text-anchor="end" fill="#777" stroke="#777">0</text>
<rect x="88.45" y="250.75" width="9.95" height="11.50" fill="#26472A" stroke="#1b3320" stroke-width="0.5"/>
<rect x="98.55" y="250.40" width="10.65" height="12.20" fill="#8EC4A6"/>
<rect x="182.15" y="250.40" width="10.65" height="36.20" fill="#EDF4F7"/>
<rect x="67.55" y="262.75" width="9.95" height="23.50" fill="#26472A" stroke="#1b3320" stroke-width="0.5"/>
<rect x="77.65" y="262.40" width="10.65" height="12.20" fill="#8EC4A6"/>
<rect x="77.65" y="274.40" width="10.65" height="12.20" fill="#D8EBE5"/>
<rect x="119.45" y="274.40" width="10.65" height="12.20" fill="#EDF4F7"/>
<rect x="151.15" y="286.75" width="9.95" height="23.50" fill="#26472A" stroke="#1b3320" stroke-width="0.5"/>
<rect x="129.90" y="298.40" width="10.65" height="12.20" fill="#8EC4A6"/>
<rect x="171.70" y="298.40" width="10.65" height="12.20" fill="#F3F8FA"/>
<rect x="182.15" y="298.40" width="10.65" height="12.20" fill="#F3F8FA"/>
<rect x="109.35" y="310.75" width="9.95" height="11.50" fill="#26472A" stroke="#1b3320" stroke-width="0.5"/>
<rect x="67.20" y="334.40" width="10.65" height="12.20" fill="#8EC4A6"/>
<rect x="77.65" y="334.40" width="10.65" height="12.20" fill="#D8EBE5"/>
<rect x="88.45" y="334.75" width="9.95" height="11.50" fill="#26472A" stroke="#1b3320" stroke-width="0.5"/>
<rect x="98.55" y="334.40" width="10.65" height="12.20" fill="#80BC98"/>
<rect x="109.00" y="334.40" width="10.65" height="12.20" fill="#B7DACA"/>
<rect x="119.45" y="334.40" width="10.65" height="12.20" fill="#EDF4F7"/>
<rect x="140.35" y="334.40" width="10.65" height="12.20" fill="#F3F8FA"/>
<rect x="150.80" y="334.40" width="10.65" height="12.20" fill="#F3F8FA"/>
<rect x="171.70" y="334.40" width="10.65" height="12.20" fill="#EDF4F7"/>
<rect x="182.15" y="334.40" width="10.65" height="12.20" fill="#EDF4F7"/>
<rect x="130.25" y="346.75" width="9.95" height="11.50" fill="#26472A" stroke="#1b3320" stroke-width="0.5"/>
<rect x="150.80" y="346.40" width="10.65" height="12.20" fill="#3B6C3E"/>
<rect x="171.70" y="346.40" width="10.65" height="12.20" fill="#D8EBE5"/>
<text x="50.30" y="258.45" font-size="8.4" text-anchor="middle" fill="#111" stroke="#111">INS</text>
<text x="50.30" y="270.93" font-size="8.4" text-anchor="middle" fill="#111" stroke="#111">GCG</text>
<text x="50.30" y="283.41" font-size="8.4" text-anchor="middle" fill="#111" stroke="#111">EDN</text>
<text x="50.30" y="295.89" font-size="8.4" text-anchor="middle" fill="#111" stroke="#111">FN1</text>
<text x="50.30" y="308.37" font-size="8.4" text-anchor="middle" fill="#111" stroke="#111">COL</text>
<text x="50.30" y="320.85" font-size="8.4" text-anchor="middle" fill="#111" stroke="#111">SOM</text>
<text x="50.30" y="333.33" font-size="8.4" text-anchor="middle" fill="#111" stroke="#111">PARs</text>
<text x="50.30" y="345.81" font-size="8.4" text-anchor="middle" fill="#111" stroke="#111">VEGF</text>
<text x="50.30" y="358.29" font-size="8.4" text-anchor="middle" fill="#111" stroke="#111">CXCL</text>
<rect x="67.30" y="360.00" width="10.45" height="2.70" fill="#CC2A26"/>
<rect x="77.75" y="360.00" width="10.45" height="2.70" fill="#4272B4"/>
<rect x="88.20" y="360.00" width="10.45" height="2.70" fill="#62A84A"/>
<rect x="98.65" y="360.00" width="10.45" height="2.70" fill="#8449A0"/>
<rect x="109.10" y="360.00" width="10.45" height="2.70" fill="#E3901E"/>
<rect x="119.55" y="360.00" width="10.45" height="2.70" fill="#EE8CC4"/>
<rect x="130.00" y="360.00" width="10.45" height="2.70" fill="#B59CD4"/>
<rect x="140.45" y="360.00" width="10.45" height="2.70" fill="#A0582E"/>
<rect x="150.90" y="360.00" width="10.45" height="2.70" fill="#68A8DC"/>
<rect x="161.35" y="360.00" width="10.45" height="2.70" fill="#222C74"/>
<rect x="171.80" y="360.00" width="10.45" height="2.70" fill="#3A9872"/>
<rect x="182.25" y="360.00" width="10.45" height="2.70" fill="#B8DC94"/>
<rect x="192.70" y="360.00" width="10.45" height="2.70" fill="#DDBC30"/>
<text transform="translate(74.62,366.50) rotate(-90)" font-size="8.6" text-anchor="end" fill="#D04A40" stroke="#D04A40" style="stroke-width:0.08px">Alpha</text>
<text transform="translate(85.07,366.50) rotate(-90)" font-size="8.6" text-anchor="end" fill="#5A82C2" stroke="#5A82C2" style="stroke-width:0.08px">Alpha (diabetes)</text>
<text transform="translate(95.52,366.50) rotate(-90)" font-size="8.6" text-anchor="end" fill="#80B462" stroke="#80B462" style="stroke-width:0.08px">Beta (prediabetes)</text>
<text transform="translate(105.97,366.50) rotate(-90)" font-size="8.6" text-anchor="end" fill="#8E5AAA" stroke="#8E5AAA" style="stroke-width:0.08px">Beta (diabetes)</text>
<text transform="translate(116.42,366.50) rotate(-90)" font-size="8.6" text-anchor="end" fill="#E69A38" stroke="#E69A38" style="stroke-width:0.08px">Delta</text>
<text transform="translate(126.87,366.50) rotate(-90)" font-size="8.6" text-anchor="end" fill="#E890C8" stroke="#E890C8" style="stroke-width:0.08px">PP</text>
<text transform="translate(137.32,366.50) rotate(-90)" font-size="8.6" text-anchor="end" fill="#BCA4D6" stroke="#BCA4D6" style="stroke-width:0.08px">Endothelial</text>
<text transform="translate(147.77,366.50) rotate(-90)" font-size="8.6" text-anchor="end" fill="#8E4E28" stroke="#8E4E28" style="stroke-width:0.08px">MoMac</text>
<text transform="translate(158.22,366.50) rotate(-90)" font-size="8.6" text-anchor="end" fill="#78B0E0" stroke="#78B0E0" style="stroke-width:0.08px">Stellate</text>
<text transform="translate(168.67,366.50) rotate(-90)" font-size="8.6" text-anchor="end" fill="#2A3480" stroke="#2A3480" style="stroke-width:0.08px">Acinar</text>
<text transform="translate(179.12,366.50) rotate(-90)" font-size="8.6" text-anchor="end" fill="#4A9468" stroke="#4A9468" style="stroke-width:0.08px">Ductal</text>
<text transform="translate(189.57,366.50) rotate(-90)" font-size="8.6" text-anchor="end" fill="#B8DA94" stroke="#B8DA94" style="stroke-width:0.08px">Ki67</text>
<text transform="translate(200.02,366.50) rotate(-90)" font-size="8.6" text-anchor="end" fill="#D8B440" stroke="#D8B440" style="stroke-width:0.08px">Unknown</text>
<rect x="204.30" y="252.65" width="7.70" height="7.70" fill="#7a7a7a" stroke="#1e1e1e" stroke-width="0.85" rx="0.3"/>
<rect x="204.30" y="264.65" width="6.50" height="7.70" fill="#7a7a7a" stroke="#1e1e1e" stroke-width="0.85" rx="0.3"/>
<rect x="204.30" y="276.65" width="4.50" height="7.70" fill="#7a7a7a" stroke="#1e1e1e" stroke-width="0.85" rx="0.3"/>
<rect x="204.30" y="288.65" width="5.40" height="7.70" fill="#7a7a7a" stroke="#1e1e1e" stroke-width="0.85" rx="0.3"/>
<rect x="204.30" y="300.65" width="13.40" height="7.70" fill="#7a7a7a" stroke="#1e1e1e" stroke-width="0.85" rx="0.3"/>
<rect x="204.30" y="312.65" width="6.70" height="7.70" fill="#7a7a7a" stroke="#1e1e1e" stroke-width="0.85" rx="0.3"/>
<line x1="204.70" y1="324.65" x2="204.70" y2="332.35" stroke="#222" stroke-width="0.9"/>
<rect x="204.30" y="336.65" width="8.70" height="7.70" fill="#7a7a7a" stroke="#1e1e1e" stroke-width="0.85" rx="0.3"/>
<rect x="204.30" y="348.65" width="3.90" height="7.70" fill="#7a7a7a" stroke="#1e1e1e" stroke-width="0.85" rx="0.3"/>
<line x1="204.30" y1="358.90" x2="218.30" y2="358.90" stroke="#111" stroke-width="0.7"/>
<line x1="204.70" y1="358.90" x2="204.70" y2="360.10" stroke="#111" stroke-width="0.6"/>
<line x1="209.70" y1="358.90" x2="209.70" y2="360.10" stroke="#111" stroke-width="0.6"/>
<line x1="214.70" y1="358.90" x2="214.70" y2="360.10" stroke="#111" stroke-width="0.6"/>
<text transform="translate(205.80,361.10) rotate(-90)" font-size="3.3" text-anchor="end" fill="#444">0</text>
<text transform="translate(210.80,361.10) rotate(-90)" font-size="3.3" text-anchor="end" fill="#444">0.2</text>
<text transform="translate(215.80,361.10) rotate(-90)" font-size="3.3" text-anchor="end" fill="#444">0.4</text>
<text transform="translate(230.40,305.20) rotate(-90)" font-size="6.3" text-anchor="middle" fill="#222" stroke="#222">Relative strength</text>
<defs><linearGradient id="g235_291" x1="0" y1="1" x2="0" y2="0"><stop offset="0" stop-color="#F7FBFD"/><stop offset="0.35" stop-color="#CDE6DA"/><stop offset="0.7" stop-color="#5E9E66"/><stop offset="1" stop-color="#1E4A25"/></linearGradient></defs>
<rect x="235.00" y="291.20" width="3.40" height="28.20" fill="url(#g235_291)"/>
<text x="239.60" y="294.40" font-size="6.2" fill="#222" stroke="#222">1</text>
<text x="239.60" y="320.60" font-size="6.2" fill="#222" stroke="#222">0</text>
<rect x="318.45" y="250.40" width="6.52" height="2.90" fill="#CC2A26" stroke="#9f201d" stroke-width="0.45"/>
<rect x="328.87" y="242.70" width="6.52" height="10.60" fill="#4272B4" stroke="#33588c" stroke-width="0.45"/>
<rect x="339.29" y="251.90" width="6.52" height="1.40" fill="#62A84A" stroke="#4c8339" stroke-width="0.45"/>
<rect x="349.71" y="239.80" width="6.52" height="13.50" fill="#8449A0" stroke="#66387c" stroke-width="0.45"/>
<rect x="360.13" y="245.00" width="6.52" height="8.30" fill="#E3901E" stroke="#b17017" stroke-width="0.45"/>
<rect x="370.55" y="251.90" width="6.52" height="1.40" fill="#EE8CC4" stroke="#b96d98" stroke-width="0.45"/>
<rect x="380.97" y="245.00" width="6.52" height="8.30" fill="#B59CD4" stroke="#8d79a5" stroke-width="0.45"/>
<rect x="391.39" y="252.00" width="6.52" height="1.30" fill="#A0582E" stroke="#7c4423" stroke-width="0.45"/>
<rect x="401.81" y="243.80" width="6.52" height="9.50" fill="#68A8DC" stroke="#5183ab" stroke-width="0.45"/>
<rect x="412.23" y="251.00" width="6.52" height="2.30" fill="#222C74" stroke="#1a225a" stroke-width="0.45"/>
<rect x="422.65" y="252.00" width="6.52" height="1.30" fill="#3A9872" stroke="#2d7658" stroke-width="0.45"/>
<rect x="433.07" y="252.00" width="6.52" height="1.30" fill="#B8DC94" stroke="#8fab73" stroke-width="0.45"/>
<rect x="443.49" y="252.00" width="6.52" height="1.30" fill="#DDBC30" stroke="#ac9225" stroke-width="0.45"/>
<line x1="316.30" y1="238.80" x2="316.30" y2="253.30" stroke="#000" stroke-width="0.9"/>
<line x1="314.80" y1="240.40" x2="316.30" y2="240.40" stroke="#000" stroke-width="0.6"/>
<text x="313.70" y="241.60" font-size="3.4" text-anchor="end" fill="#777" stroke="#777">0.04</text>
<line x1="314.80" y1="246.50" x2="316.30" y2="246.50" stroke="#000" stroke-width="0.6"/>
<text x="313.70" y="247.70" font-size="3.4" text-anchor="end" fill="#777" stroke="#777">0.02</text>
<line x1="314.80" y1="252.60" x2="316.30" y2="252.60" stroke="#000" stroke-width="0.6"/>
<text x="313.70" y="253.80" font-size="3.4" text-anchor="end" fill="#777" stroke="#777">0</text>
<rect x="337.24" y="254.40" width="10.62" height="12.20" fill="#EDF4F7"/>
<rect x="348.01" y="254.75" width="9.92" height="11.50" fill="#26472A" stroke="#1b3320" stroke-width="0.5"/>
<rect x="410.18" y="254.40" width="10.62" height="12.20" fill="#EDF4F7"/>
<rect x="431.02" y="254.40" width="10.62" height="12.20" fill="#F3F8FA"/>
<rect x="316.40" y="266.40" width="10.62" height="24.20" fill="#D8EBE5"/>
<rect x="327.17" y="266.75" width="9.92" height="23.50" fill="#26472A" stroke="#1b3320" stroke-width="0.5"/>
<rect x="368.50" y="278.40" width="10.62" height="12.20" fill="#EDF4F7"/>
<rect x="400.11" y="290.75" width="9.92" height="23.50" fill="#26472A" stroke="#1b3320" stroke-width="0.5"/>
<rect x="378.92" y="302.40" width="10.62" height="12.20" fill="#3E7944"/>
<rect x="358.43" y="314.75" width="9.92" height="11.50" fill="#26472A" stroke="#1b3320" stroke-width="0.5"/>
<rect x="410.18" y="314.40" width="10.62" height="12.20" fill="#E2EFF4"/>
<rect x="316.40" y="326.40" width="10.62" height="12.20" fill="#F3F8FA"/>
<rect x="337.24" y="326.40" width="10.62" height="12.20" fill="#F3F8FA"/>
<rect x="348.01" y="326.75" width="9.92" height="23.50" fill="#26472A" stroke="#1b3320" stroke-width="0.5"/>
<rect x="368.50" y="326.40" width="10.62" height="12.20" fill="#F3F8FA"/>
<rect x="389.34" y="326.40" width="10.62" height="24.20" fill="#F3F8FA"/>
<rect x="410.18" y="326.40" width="10.62" height="12.20" fill="#4E9452"/>
<rect x="431.02" y="326.40" width="10.62" height="24.20" fill="#F3F8FA"/>
<rect x="316.40" y="338.40" width="10.62" height="12.20" fill="#EDF4F7"/>
<rect x="326.82" y="338.40" width="10.62" height="12.20" fill="#C3E0D3"/>
<rect x="337.24" y="338.40" width="10.62" height="12.20" fill="#EDF4F7"/>
<rect x="358.08" y="338.40" width="10.62" height="12.20" fill="#DCEDEA"/>
<rect x="368.50" y="338.40" width="10.62" height="12.20" fill="#EDF4F7"/>
<rect x="399.76" y="338.40" width="10.62" height="12.20" fill="#F3F8FA"/>
<rect x="410.18" y="338.40" width="10.62" height="12.20" fill="#EDF4F7"/>
<rect x="400.11" y="350.75" width="9.92" height="11.50" fill="#26472A" stroke="#1b3320" stroke-width="0.5"/>
<text x="300.40" y="262.65" font-size="8.4" text-anchor="middle" fill="#111" stroke="#111">INS</text>
<text x="300.40" y="274.85" font-size="8.4" text-anchor="middle" fill="#111" stroke="#111">GCG</text>
<text x="300.40" y="287.05" font-size="8.4" text-anchor="middle" fill="#111" stroke="#111">EDN</text>
<text x="300.40" y="299.25" font-size="8.4" text-anchor="middle" fill="#111" stroke="#111">FN1</text>
<text x="300.40" y="311.45" font-size="8.4" text-anchor="middle" fill="#111" stroke="#111">COL</text>
<text x="300.40" y="323.65" font-size="8.4" text-anchor="middle" fill="#111" stroke="#111">SOM</text>
<text x="300.40" y="335.85" font-size="8.4" text-anchor="middle" fill="#111" stroke="#111">PARs</text>
<text x="300.40" y="348.05" font-size="8.4" text-anchor="middle" fill="#111" stroke="#111">VEGF</text>
<text x="300.40" y="360.25" font-size="8.4" text-anchor="middle" fill="#111" stroke="#111">CXCL</text>
<rect x="316.50" y="364.00" width="10.42" height="2.70" fill="#CC2A26"/>
<rect x="326.92" y="364.00" width="10.42" height="2.70" fill="#4272B4"/>
<rect x="337.34" y="364.00" width="10.42" height="2.70" fill="#62A84A"/>
<rect x="347.76" y="364.00" width="10.42" height="2.70" fill="#8449A0"/>
<rect x="358.18" y="364.00" width="10.42" height="2.70" fill="#E3901E"/>
<rect x="368.60" y="364.00" width="10.42" height="2.70" fill="#EE8CC4"/>
<rect x="379.02" y="364.00" width="10.42" height="2.70" fill="#B59CD4"/>
<rect x="389.44" y="364.00" width="10.42" height="2.70" fill="#A0582E"/>
<rect x="399.86" y="364.00" width="10.42" height="2.70" fill="#68A8DC"/>
<rect x="410.28" y="364.00" width="10.42" height="2.70" fill="#222C74"/>
<rect x="420.70" y="364.00" width="10.42" height="2.70" fill="#3A9872"/>
<rect x="431.12" y="364.00" width="10.42" height="2.70" fill="#B8DC94"/>
<rect x="441.54" y="364.00" width="10.42" height="2.70" fill="#DDBC30"/>
<text transform="translate(323.81,370.50) rotate(-90)" font-size="8.6" text-anchor="end" fill="#D04A40" stroke="#D04A40" style="stroke-width:0.08px">Alpha</text>
<text transform="translate(334.23,370.50) rotate(-90)" font-size="8.6" text-anchor="end" fill="#5A82C2" stroke="#5A82C2" style="stroke-width:0.08px">Alpha (diabetes)</text>
<text transform="translate(344.65,370.50) rotate(-90)" font-size="8.6" text-anchor="end" fill="#80B462" stroke="#80B462" style="stroke-width:0.08px">Beta (prediabetes)</text>
<text transform="translate(355.07,370.50) rotate(-90)" font-size="8.6" text-anchor="end" fill="#8E5AAA" stroke="#8E5AAA" style="stroke-width:0.08px">Beta (diabetes)</text>
<text transform="translate(365.49,370.50) rotate(-90)" font-size="8.6" text-anchor="end" fill="#E69A38" stroke="#E69A38" style="stroke-width:0.08px">Delta</text>
<text transform="translate(375.91,370.50) rotate(-90)" font-size="8.6" text-anchor="end" fill="#E890C8" stroke="#E890C8" style="stroke-width:0.08px">PP</text>
<text transform="translate(386.33,370.50) rotate(-90)" font-size="8.6" text-anchor="end" fill="#BCA4D6" stroke="#BCA4D6" style="stroke-width:0.08px">Endothelial</text>
<text transform="translate(396.75,370.50) rotate(-90)" font-size="8.6" text-anchor="end" fill="#8E4E28" stroke="#8E4E28" style="stroke-width:0.08px">MoMac</text>
<text transform="translate(407.17,370.50) rotate(-90)" font-size="8.6" text-anchor="end" fill="#78B0E0" stroke="#78B0E0" style="stroke-width:0.08px">Stellate</text>
<text transform="translate(417.59,370.50) rotate(-90)" font-size="8.6" text-anchor="end" fill="#2A3480" stroke="#2A3480" style="stroke-width:0.08px">Acinar</text>
<text transform="translate(428.01,370.50) rotate(-90)" font-size="8.6" text-anchor="end" fill="#4A9468" stroke="#4A9468" style="stroke-width:0.08px">Ductal</text>
<text transform="translate(438.43,370.50) rotate(-90)" font-size="8.6" text-anchor="end" fill="#B8DA94" stroke="#B8DA94" style="stroke-width:0.08px">Ki67</text>
<text transform="translate(448.85,370.50) rotate(-90)" font-size="8.6" text-anchor="end" fill="#D8B440" stroke="#D8B440" style="stroke-width:0.08px">Unknown</text>
<rect x="453.10" y="256.65" width="10.70" height="7.70" fill="#7a7a7a" stroke="#1e1e1e" stroke-width="0.85" rx="0.3"/>
<rect x="453.10" y="268.65" width="11.60" height="7.70" fill="#7a7a7a" stroke="#1e1e1e" stroke-width="0.85" rx="0.3"/>
<rect x="453.10" y="280.65" width="6.60" height="7.70" fill="#7a7a7a" stroke="#1e1e1e" stroke-width="0.85" rx="0.3"/>
<rect x="453.10" y="292.65" width="6.40" height="7.70" fill="#7a7a7a" stroke="#1e1e1e" stroke-width="0.85" rx="0.3"/>
<rect x="453.10" y="304.65" width="13.50" height="7.70" fill="#7a7a7a" stroke="#1e1e1e" stroke-width="0.85" rx="0.3"/>
<rect x="453.10" y="316.65" width="10.70" height="7.70" fill="#7a7a7a" stroke="#1e1e1e" stroke-width="0.85" rx="0.3"/>
<rect x="453.10" y="328.65" width="7.10" height="7.70" fill="#7a7a7a" stroke="#1e1e1e" stroke-width="0.85" rx="0.3"/>
<rect x="453.10" y="340.65" width="11.80" height="7.70" fill="#7a7a7a" stroke="#1e1e1e" stroke-width="0.85" rx="0.3"/>
<rect x="453.10" y="352.65" width="4.50" height="7.70" fill="#7a7a7a" stroke="#1e1e1e" stroke-width="0.85" rx="0.3"/>
<line x1="453.10" y1="362.90" x2="467.10" y2="362.90" stroke="#111" stroke-width="0.7"/>
<line x1="453.50" y1="362.90" x2="453.50" y2="364.10" stroke="#111" stroke-width="0.6"/>
<line x1="458.50" y1="362.90" x2="458.50" y2="364.10" stroke="#111" stroke-width="0.6"/>
<line x1="463.50" y1="362.90" x2="463.50" y2="364.10" stroke="#111" stroke-width="0.6"/>
<text transform="translate(454.60,365.10) rotate(-90)" font-size="3.3" text-anchor="end" fill="#444">0</text>
<text transform="translate(459.60,365.10) rotate(-90)" font-size="3.3" text-anchor="end" fill="#444">0.2</text>
<text transform="translate(464.60,365.10) rotate(-90)" font-size="3.3" text-anchor="end" fill="#444">0.4</text>
<text transform="translate(479.50,309.30) rotate(-90)" font-size="6.3" text-anchor="middle" fill="#222" stroke="#222">Relative strength</text>
<defs><linearGradient id="g483_295" x1="0" y1="1" x2="0" y2="0"><stop offset="0" stop-color="#F7FBFD"/><stop offset="0.35" stop-color="#CDE6DA"/><stop offset="0.7" stop-color="#5E9E66"/><stop offset="1" stop-color="#1E4A25"/></linearGradient></defs>
<rect x="483.30" y="295.10" width="3.40" height="28.20" fill="url(#g483_295)"/>
<text x="488.30" y="298.30" font-size="6.2" fill="#222" stroke="#222">1</text>
<text x="488.30" y="324.50" font-size="6.2" fill="#222" stroke="#222">0</text>
<rect x="69.75" y="506.30" width="6.44" height="2.70" fill="#CC2A26" stroke="#9f201d" stroke-width="0.45"/>
<rect x="80.09" y="507.50" width="6.44" height="1.50" fill="#4272B4" stroke="#33588c" stroke-width="0.45"/>
<rect x="90.43" y="495.80" width="6.44" height="13.20" fill="#62A84A" stroke="#4c8339" stroke-width="0.45"/>
<rect x="100.77" y="501.90" width="6.44" height="7.10" fill="#8449A0" stroke="#66387c" stroke-width="0.45"/>
<rect x="111.11" y="504.50" width="6.44" height="4.50" fill="#E3901E" stroke="#b17017" stroke-width="0.45"/>
<rect x="121.45" y="507.20" width="6.44" height="1.80" fill="#EE8CC4" stroke="#b96d98" stroke-width="0.45"/>
<rect x="131.79" y="495.60" width="6.44" height="13.40" fill="#B59CD4" stroke="#8d79a5" stroke-width="0.45"/>
<rect x="142.13" y="506.80" width="6.44" height="2.20" fill="#A0582E" stroke="#7c4423" stroke-width="0.45"/>
<rect x="152.47" y="507.00" width="6.44" height="2.00" fill="#68A8DC" stroke="#5183ab" stroke-width="0.45"/>
<rect x="162.81" y="507.80" width="6.44" height="1.20" fill="#222C74" stroke="#1a225a" stroke-width="0.45"/>
<rect x="173.15" y="507.20" width="6.44" height="1.80" fill="#3A9872" stroke="#2d7658" stroke-width="0.45"/>
<rect x="183.49" y="507.60" width="6.44" height="1.40" fill="#B8DC94" stroke="#8fab73" stroke-width="0.45"/>
<rect x="193.83" y="507.80" width="6.44" height="1.20" fill="#DDBC30" stroke="#ac9225" stroke-width="0.45"/>
<line x1="67.90" y1="495.00" x2="67.90" y2="509.00" stroke="#000" stroke-width="0.9"/>
<line x1="66.40" y1="496.20" x2="67.90" y2="496.20" stroke="#000" stroke-width="0.6"/>
<text x="65.30" y="497.40" font-size="3.4" text-anchor="end" fill="#777" stroke="#777">0.06</text>
<line x1="66.40" y1="498.40" x2="67.90" y2="498.40" stroke="#000" stroke-width="0.6"/>
<text x="65.30" y="499.60" font-size="3.4" text-anchor="end" fill="#777" stroke="#777">0.05</text>
<line x1="66.40" y1="500.60" x2="67.90" y2="500.60" stroke="#000" stroke-width="0.6"/>
<text x="65.30" y="501.80" font-size="3.4" text-anchor="end" fill="#777" stroke="#777">0.04</text>
<line x1="66.40" y1="502.80" x2="67.90" y2="502.80" stroke="#000" stroke-width="0.6"/>
<text x="65.30" y="504.00" font-size="3.4" text-anchor="end" fill="#777" stroke="#777">0.03</text>
<line x1="66.40" y1="505.00" x2="67.90" y2="505.00" stroke="#000" stroke-width="0.6"/>
<text x="65.30" y="506.20" font-size="3.4" text-anchor="end" fill="#777" stroke="#777">0.02</text>
<line x1="66.40" y1="507.20" x2="67.90" y2="507.20" stroke="#000" stroke-width="0.6"/>
<text x="65.30" y="508.40" font-size="3.4" text-anchor="end" fill="#777" stroke="#777">0.01</text>
<line x1="66.40" y1="509.00" x2="67.90" y2="509.00" stroke="#000" stroke-width="0.6"/>
<text x="65.30" y="510.20" font-size="3.4" text-anchor="end" fill="#777" stroke="#777">0</text>
<rect x="109.06" y="509.80" width="10.54" height="12.14" fill="#A6D3BF"/>
<rect x="119.40" y="509.80" width="10.54" height="12.14" fill="#E4F0F3"/>
<rect x="130.09" y="510.15" width="9.84" height="11.44" fill="#26472A" stroke="#1b3320" stroke-width="0.5"/>
<rect x="88.73" y="522.09" width="9.84" height="11.44" fill="#26472A" stroke="#1b3320" stroke-width="0.5"/>
<rect x="98.72" y="521.74" width="10.54" height="12.14" fill="#9ACCB4"/>
<rect x="129.74" y="533.68" width="10.54" height="12.14" fill="#4A884C"/>
<rect x="150.77" y="534.03" width="9.84" height="11.44" fill="#26472A" stroke="#1b3320" stroke-width="0.5"/>
<rect x="67.70" y="545.62" width="10.54" height="24.08" fill="#D8EBE5"/>
<rect x="78.04" y="545.62" width="10.54" height="12.14" fill="#EDF4F7"/>
<rect x="88.73" y="545.97" width="9.84" height="35.32" fill="#26472A" stroke="#1b3320" stroke-width="0.5"/>
<rect x="98.72" y="545.62" width="10.54" height="24.08" fill="#88C3A3"/>
<rect x="109.06" y="545.62" width="10.54" height="12.14" fill="#DDEDEE"/>
<rect x="119.40" y="545.62" width="10.54" height="36.02" fill="#EDF4F7"/>
<rect x="129.74" y="545.62" width="10.54" height="12.14" fill="#E8F2F4"/>
<rect x="140.08" y="545.62" width="10.54" height="12.14" fill="#DBEBE9"/>
<rect x="150.42" y="545.62" width="10.54" height="24.08" fill="#EDF4F7"/>
<rect x="171.10" y="545.62" width="10.54" height="24.08" fill="#EDF4F7"/>
<rect x="181.44" y="545.62" width="10.54" height="36.02" fill="#EDF4F7"/>
<rect x="78.04" y="557.56" width="10.54" height="12.14" fill="#E6F1F4"/>
<rect x="109.06" y="557.56" width="10.54" height="12.14" fill="#D5E9E3"/>
<rect x="129.74" y="557.56" width="10.54" height="12.14" fill="#E0EEEF"/>
<rect x="140.08" y="557.56" width="10.54" height="12.14" fill="#E0EEEF"/>
<rect x="67.70" y="569.50" width="10.54" height="12.14" fill="#E4F0F5"/>
<rect x="78.04" y="569.50" width="10.54" height="12.14" fill="#EDF4F7"/>
<rect x="98.72" y="569.50" width="10.54" height="12.14" fill="#8AC5A5"/>
<rect x="109.06" y="569.50" width="10.54" height="12.14" fill="#DAEDE7"/>
<rect x="130.09" y="593.73" width="9.84" height="23.38" fill="#26472A" stroke="#1b3320" stroke-width="0.5"/>
<rect x="140.08" y="605.32" width="10.54" height="12.14" fill="#5A985C"/>
<rect x="150.42" y="605.32" width="10.54" height="12.14" fill="#A8D3BE"/>
<text x="52.20" y="518.20" font-size="8.4" text-anchor="middle" fill="#111" stroke="#111">INS</text>
<text x="52.20" y="530.48" font-size="8.4" text-anchor="middle" fill="#111" stroke="#111">GCG</text>
<text x="52.20" y="542.76" font-size="8.4" text-anchor="middle" fill="#111" stroke="#111">EDN</text>
<text x="52.20" y="555.04" font-size="8.4" text-anchor="middle" fill="#111" stroke="#111">FN1</text>
<text x="52.20" y="567.32" font-size="8.4" text-anchor="middle" fill="#111" stroke="#111">COL</text>
<text x="52.20" y="579.60" font-size="8.4" text-anchor="middle" fill="#111" stroke="#111">SOM</text>
<text x="52.20" y="591.88" font-size="8.4" text-anchor="middle" fill="#111" stroke="#111">PARs</text>
<text x="52.20" y="604.16" font-size="8.4" text-anchor="middle" fill="#111" stroke="#111">VEGF</text>
<text x="52.20" y="616.44" font-size="8.4" text-anchor="middle" fill="#111" stroke="#111">CXCL</text>
<rect x="67.80" y="618.86" width="10.34" height="2.70" fill="#CC2A26"/>
<rect x="78.14" y="618.86" width="10.34" height="2.70" fill="#4272B4"/>
<rect x="88.48" y="618.86" width="10.34" height="2.70" fill="#62A84A"/>
<rect x="98.82" y="618.86" width="10.34" height="2.70" fill="#8449A0"/>
<rect x="109.16" y="618.86" width="10.34" height="2.70" fill="#E3901E"/>
<rect x="119.50" y="618.86" width="10.34" height="2.70" fill="#EE8CC4"/>
<rect x="129.84" y="618.86" width="10.34" height="2.70" fill="#B59CD4"/>
<rect x="140.18" y="618.86" width="10.34" height="2.70" fill="#A0582E"/>
<rect x="150.52" y="618.86" width="10.34" height="2.70" fill="#68A8DC"/>
<rect x="160.86" y="618.86" width="10.34" height="2.70" fill="#222C74"/>
<rect x="171.20" y="618.86" width="10.34" height="2.70" fill="#3A9872"/>
<rect x="181.54" y="618.86" width="10.34" height="2.70" fill="#B8DC94"/>
<rect x="191.88" y="618.86" width="10.34" height="2.70" fill="#DDBC30"/>
<text transform="translate(75.07,625.36) rotate(-90)" font-size="8.6" text-anchor="end" fill="#D04A40" stroke="#D04A40" style="stroke-width:0.08px">Alpha</text>
<text transform="translate(85.41,625.36) rotate(-90)" font-size="8.6" text-anchor="end" fill="#5A82C2" stroke="#5A82C2" style="stroke-width:0.08px">Alpha (diabetes)</text>
<text transform="translate(95.75,625.36) rotate(-90)" font-size="8.6" text-anchor="end" fill="#80B462" stroke="#80B462" style="stroke-width:0.08px">Beta (prediabetes)</text>
<text transform="translate(106.09,625.36) rotate(-90)" font-size="8.6" text-anchor="end" fill="#8E5AAA" stroke="#8E5AAA" style="stroke-width:0.08px">Beta (diabetes)</text>
<text transform="translate(116.43,625.36) rotate(-90)" font-size="8.6" text-anchor="end" fill="#E69A38" stroke="#E69A38" style="stroke-width:0.08px">Delta</text>
<text transform="translate(126.77,625.36) rotate(-90)" font-size="8.6" text-anchor="end" fill="#E890C8" stroke="#E890C8" style="stroke-width:0.08px">PP</text>
<text transform="translate(137.11,625.36) rotate(-90)" font-size="8.6" text-anchor="end" fill="#BCA4D6" stroke="#BCA4D6" style="stroke-width:0.08px">Endothelial</text>
<text transform="translate(147.45,625.36) rotate(-90)" font-size="8.6" text-anchor="end" fill="#8E4E28" stroke="#8E4E28" style="stroke-width:0.08px">MoMac</text>
<text transform="translate(157.79,625.36) rotate(-90)" font-size="8.6" text-anchor="end" fill="#78B0E0" stroke="#78B0E0" style="stroke-width:0.08px">Stellate</text>
<text transform="translate(168.13,625.36) rotate(-90)" font-size="8.6" text-anchor="end" fill="#2A3480" stroke="#2A3480" style="stroke-width:0.08px">Acinar</text>
<text transform="translate(178.47,625.36) rotate(-90)" font-size="8.6" text-anchor="end" fill="#4A9468" stroke="#4A9468" style="stroke-width:0.08px">Ductal</text>
<text transform="translate(188.81,625.36) rotate(-90)" font-size="8.6" text-anchor="end" fill="#B8DA94" stroke="#B8DA94" style="stroke-width:0.08px">Ki67</text>
<text transform="translate(199.15,625.36) rotate(-90)" font-size="8.6" text-anchor="end" fill="#D8B440" stroke="#D8B440" style="stroke-width:0.08px">Unknown</text>
<rect x="203.10" y="512.02" width="7.50" height="7.70" fill="#7a7a7a" stroke="#1e1e1e" stroke-width="0.85" rx="0.3"/>
<rect x="203.10" y="523.96" width="6.60" height="7.70" fill="#7a7a7a" stroke="#1e1e1e" stroke-width="0.85" rx="0.3"/>
<rect x="203.10" y="535.90" width="5.10" height="7.70" fill="#7a7a7a" stroke="#1e1e1e" stroke-width="0.85" rx="0.3"/>
<rect x="203.10" y="547.84" width="5.20" height="7.70" fill="#7a7a7a" stroke="#1e1e1e" stroke-width="0.85" rx="0.3"/>
<rect x="203.10" y="559.78" width="13.50" height="7.70" fill="#7a7a7a" stroke="#1e1e1e" stroke-width="0.85" rx="0.3"/>
<rect x="203.10" y="571.72" width="6.90" height="7.70" fill="#7a7a7a" stroke="#1e1e1e" stroke-width="0.85" rx="0.3"/>
<line x1="203.50" y1="583.66" x2="203.50" y2="591.36" stroke="#222" stroke-width="0.9"/>
<rect x="203.10" y="595.60" width="8.80" height="7.70" fill="#7a7a7a" stroke="#1e1e1e" stroke-width="0.85" rx="0.3"/>
<rect x="203.10" y="607.54" width="4.30" height="7.70" fill="#7a7a7a" stroke="#1e1e1e" stroke-width="0.85" rx="0.3"/>
<line x1="203.10" y1="617.50" x2="217.10" y2="617.50" stroke="#111" stroke-width="0.7"/>
<line x1="203.50" y1="617.50" x2="203.50" y2="618.70" stroke="#111" stroke-width="0.6"/>
<line x1="208.50" y1="617.50" x2="208.50" y2="618.70" stroke="#111" stroke-width="0.6"/>
<line x1="213.50" y1="617.50" x2="213.50" y2="618.70" stroke="#111" stroke-width="0.6"/>
<text transform="translate(204.60,619.70) rotate(-90)" font-size="3.3" text-anchor="end" fill="#444">0</text>
<text transform="translate(209.60,619.70) rotate(-90)" font-size="3.3" text-anchor="end" fill="#444">0.2</text>
<text transform="translate(214.60,619.70) rotate(-90)" font-size="3.3" text-anchor="end" fill="#444">0.4</text>
<text transform="translate(229.10,563.70) rotate(-90)" font-size="6.3" text-anchor="middle" fill="#222" stroke="#222">Relative strength</text>
<defs><linearGradient id="g233_549" x1="0" y1="1" x2="0" y2="0"><stop offset="0" stop-color="#F7FBFD"/><stop offset="0.35" stop-color="#CDE6DA"/><stop offset="0.7" stop-color="#5E9E66"/><stop offset="1" stop-color="#1E4A25"/></linearGradient></defs>
<rect x="233.00" y="549.60" width="3.40" height="28.20" fill="url(#g233_549)"/>
<text x="238.30" y="552.80" font-size="6.2" fill="#222" stroke="#222">1</text>
<text x="238.30" y="579.00" font-size="6.2" fill="#222" stroke="#222">0</text>
<rect x="318.85" y="506.80" width="6.44" height="1.20" fill="#CC2A26" stroke="#9f201d" stroke-width="0.45"/>
<rect x="329.19" y="506.80" width="6.44" height="1.20" fill="#4272B4" stroke="#33588c" stroke-width="0.45"/>
<rect x="339.53" y="506.80" width="6.44" height="1.20" fill="#62A84A" stroke="#4c8339" stroke-width="0.45"/>
<rect x="349.87" y="494.50" width="6.44" height="13.50" fill="#8449A0" stroke="#66387c" stroke-width="0.45"/>
<rect x="360.21" y="506.80" width="6.44" height="1.20" fill="#E3901E" stroke="#b17017" stroke-width="0.45"/>
<rect x="370.55" y="506.80" width="6.44" height="1.20" fill="#EE8CC4" stroke="#b96d98" stroke-width="0.45"/>
<rect x="380.89" y="499.00" width="6.44" height="9.00" fill="#B59CD4" stroke="#8d79a5" stroke-width="0.45"/>
<rect x="391.23" y="506.80" width="6.44" height="1.20" fill="#A0582E" stroke="#7c4423" stroke-width="0.45"/>
<rect x="401.57" y="506.80" width="6.44" height="1.20" fill="#68A8DC" stroke="#5183ab" stroke-width="0.45"/>
<rect x="411.91" y="506.80" width="6.44" height="1.20" fill="#222C74" stroke="#1a225a" stroke-width="0.45"/>
<rect x="422.25" y="506.80" width="6.44" height="1.20" fill="#3A9872" stroke="#2d7658" stroke-width="0.45"/>
<rect x="432.59" y="506.80" width="6.44" height="1.20" fill="#B8DC94" stroke="#8fab73" stroke-width="0.45"/>
<rect x="442.93" y="506.80" width="6.44" height="1.20" fill="#DDBC30" stroke="#ac9225" stroke-width="0.45"/>
<line x1="317.30" y1="494.00" x2="317.30" y2="508.00" stroke="#000" stroke-width="0.9"/>
<line x1="315.80" y1="495.20" x2="317.30" y2="495.20" stroke="#000" stroke-width="0.6"/>
<text x="314.70" y="496.40" font-size="3.4" text-anchor="end" fill="#777" stroke="#777">0.06</text>
<line x1="315.80" y1="497.40" x2="317.30" y2="497.40" stroke="#000" stroke-width="0.6"/>
<text x="314.70" y="498.60" font-size="3.4" text-anchor="end" fill="#777" stroke="#777">0.05</text>
<line x1="315.80" y1="499.60" x2="317.30" y2="499.60" stroke="#000" stroke-width="0.6"/>
<text x="314.70" y="500.80" font-size="3.4" text-anchor="end" fill="#777" stroke="#777">0.04</text>
<line x1="315.80" y1="501.80" x2="317.30" y2="501.80" stroke="#000" stroke-width="0.6"/>
<text x="314.70" y="503.00" font-size="3.4" text-anchor="end" fill="#777" stroke="#777">0.03</text>
<line x1="315.80" y1="504.00" x2="317.30" y2="504.00" stroke="#000" stroke-width="0.6"/>
<text x="314.70" y="505.20" font-size="3.4" text-anchor="end" fill="#777" stroke="#777">0.02</text>
<line x1="315.80" y1="506.20" x2="317.30" y2="506.20" stroke="#000" stroke-width="0.6"/>
<text x="314.70" y="507.40" font-size="3.4" text-anchor="end" fill="#777" stroke="#777">0.01</text>
<line x1="315.80" y1="508.00" x2="317.30" y2="508.00" stroke="#000" stroke-width="0.6"/>
<text x="314.70" y="509.20" font-size="3.4" text-anchor="end" fill="#777" stroke="#777">0</text>
<rect x="379.19" y="509.55" width="9.84" height="11.44" fill="#26472A" stroke="#1b3320" stroke-width="0.5"/>
<rect x="337.48" y="521.14" width="10.54" height="12.14" fill="#EDF4F7"/>
<rect x="348.17" y="521.49" width="9.84" height="11.44" fill="#26472A" stroke="#1b3320" stroke-width="0.5"/>
<rect x="409.86" y="521.14" width="10.54" height="12.14" fill="#EDF4F7"/>
<rect x="379.19" y="533.43" width="9.84" height="11.44" fill="#26472A" stroke="#1b3320" stroke-width="0.5"/>
<rect x="399.52" y="533.08" width="10.54" height="12.14" fill="#8FC6A8"/>
<rect x="316.80" y="545.02" width="10.54" height="36.02" fill="#EDF4F7"/>
<rect x="327.14" y="545.02" width="10.54" height="12.14" fill="#E6F0F5"/>
<rect x="337.48" y="545.02" width="10.54" height="36.02" fill="#EDF4F7"/>
<rect x="348.17" y="545.37" width="9.84" height="47.26" fill="#26472A" stroke="#1b3320" stroke-width="0.5"/>
<rect x="358.16" y="545.02" width="10.54" height="12.14" fill="#E3EFF4"/>
<rect x="368.50" y="545.02" width="10.54" height="24.08" fill="#EDF4F7"/>
<rect x="378.84" y="545.02" width="10.54" height="12.14" fill="#EDF4F7"/>
<rect x="389.18" y="545.02" width="10.54" height="24.08" fill="#EDF4F7"/>
<rect x="409.86" y="545.02" width="10.54" height="24.08" fill="#EDF4F7"/>
<rect x="430.54" y="545.02" width="10.54" height="36.02" fill="#F3F8FA"/>
<rect x="327.14" y="556.96" width="10.54" height="12.14" fill="#E4EFF4"/>
<rect x="358.16" y="556.96" width="10.54" height="12.14" fill="#E0EDF3"/>
<rect x="378.84" y="556.96" width="10.54" height="12.14" fill="#F3F8FA"/>
<rect x="327.14" y="568.90" width="10.54" height="12.14" fill="#EDF4F7"/>
<rect x="358.16" y="568.90" width="10.54" height="24.08" fill="#EDF4F7"/>
<rect x="368.50" y="568.90" width="10.54" height="12.14" fill="#F3F8FA"/>
<rect x="409.86" y="568.90" width="10.54" height="24.08" fill="#F3F8FA"/>
<rect x="378.84" y="580.84" width="10.54" height="12.14" fill="#F3F8FA"/>
<rect x="399.52" y="580.84" width="10.54" height="12.14" fill="#EDF4F7"/>
<rect x="379.19" y="593.13" width="9.84" height="23.38" fill="#26472A" stroke="#1b3320" stroke-width="0.5"/>
<rect x="389.18" y="604.72" width="10.54" height="12.14" fill="#6AAA70"/>
<rect x="399.52" y="604.72" width="10.54" height="12.14" fill="#A0CFB4"/>
<text x="299.40" y="518.20" font-size="8.4" text-anchor="middle" fill="#111" stroke="#111">INS</text>
<text x="299.40" y="530.60" font-size="8.4" text-anchor="middle" fill="#111" stroke="#111">GCG</text>
<text x="299.40" y="543.00" font-size="8.4" text-anchor="middle" fill="#111" stroke="#111">EDN</text>
<text x="299.40" y="555.40" font-size="8.4" text-anchor="middle" fill="#111" stroke="#111">FN1</text>
<text x="299.40" y="567.80" font-size="8.4" text-anchor="middle" fill="#111" stroke="#111">COL</text>
<text x="299.40" y="580.20" font-size="8.4" text-anchor="middle" fill="#111" stroke="#111">SOM</text>
<text x="299.40" y="592.60" font-size="8.4" text-anchor="middle" fill="#111" stroke="#111">PARs</text>
<text x="299.40" y="605.00" font-size="8.4" text-anchor="middle" fill="#111" stroke="#111">VEGF</text>
<text x="299.40" y="617.40" font-size="8.4" text-anchor="middle" fill="#111" stroke="#111">CXCL</text>
<rect x="316.90" y="618.26" width="10.34" height="2.70" fill="#CC2A26"/>
<rect x="327.24" y="618.26" width="10.34" height="2.70" fill="#4272B4"/>
<rect x="337.58" y="618.26" width="10.34" height="2.70" fill="#62A84A"/>
<rect x="347.92" y="618.26" width="10.34" height="2.70" fill="#8449A0"/>
<rect x="358.26" y="618.26" width="10.34" height="2.70" fill="#E3901E"/>
<rect x="368.60" y="618.26" width="10.34" height="2.70" fill="#EE8CC4"/>
<rect x="378.94" y="618.26" width="10.34" height="2.70" fill="#B59CD4"/>
<rect x="389.28" y="618.26" width="10.34" height="2.70" fill="#A0582E"/>
<rect x="399.62" y="618.26" width="10.34" height="2.70" fill="#68A8DC"/>
<rect x="409.96" y="618.26" width="10.34" height="2.70" fill="#222C74"/>
<rect x="420.30" y="618.26" width="10.34" height="2.70" fill="#3A9872"/>
<rect x="430.64" y="618.26" width="10.34" height="2.70" fill="#B8DC94"/>
<rect x="440.98" y="618.26" width="10.34" height="2.70" fill="#DDBC30"/>
<text transform="translate(324.17,624.76) rotate(-90)" font-size="8.6" text-anchor="end" fill="#D04A40" stroke="#D04A40" style="stroke-width:0.08px">Alpha</text>
<text transform="translate(334.51,624.76) rotate(-90)" font-size="8.6" text-anchor="end" fill="#5A82C2" stroke="#5A82C2" style="stroke-width:0.08px">Alpha (diabetes)</text>
<text transform="translate(344.85,624.76) rotate(-90)" font-size="8.6" text-anchor="end" fill="#80B462" stroke="#80B462" style="stroke-width:0.08px">Beta (prediabetes)</text>
<text transform="translate(355.19,624.76) rotate(-90)" font-size="8.6" text-anchor="end" fill="#8E5AAA" stroke="#8E5AAA" style="stroke-width:0.08px">Beta (diabetes)</text>
<text transform="translate(365.53,624.76) rotate(-90)" font-size="8.6" text-anchor="end" fill="#E69A38" stroke="#E69A38" style="stroke-width:0.08px">Delta</text>
<text transform="translate(375.87,624.76) rotate(-90)" font-size="8.6" text-anchor="end" fill="#E890C8" stroke="#E890C8" style="stroke-width:0.08px">PP</text>
<text transform="translate(386.21,624.76) rotate(-90)" font-size="8.6" text-anchor="end" fill="#BCA4D6" stroke="#BCA4D6" style="stroke-width:0.08px">Endothelial</text>
<text transform="translate(396.55,624.76) rotate(-90)" font-size="8.6" text-anchor="end" fill="#8E4E28" stroke="#8E4E28" style="stroke-width:0.08px">MoMac</text>
<text transform="translate(406.89,624.76) rotate(-90)" font-size="8.6" text-anchor="end" fill="#78B0E0" stroke="#78B0E0" style="stroke-width:0.08px">Stellate</text>
<text transform="translate(417.23,624.76) rotate(-90)" font-size="8.6" text-anchor="end" fill="#2A3480" stroke="#2A3480" style="stroke-width:0.08px">Acinar</text>
<text transform="translate(427.57,624.76) rotate(-90)" font-size="8.6" text-anchor="end" fill="#4A9468" stroke="#4A9468" style="stroke-width:0.08px">Ductal</text>
<text transform="translate(437.91,624.76) rotate(-90)" font-size="8.6" text-anchor="end" fill="#B8DA94" stroke="#B8DA94" style="stroke-width:0.08px">Ki67</text>
<text transform="translate(448.25,624.76) rotate(-90)" font-size="8.6" text-anchor="end" fill="#D8B440" stroke="#D8B440" style="stroke-width:0.08px">Unknown</text>
<rect x="452.20" y="511.42" width="10.60" height="7.70" fill="#7a7a7a" stroke="#1e1e1e" stroke-width="0.85" rx="0.3"/>
<rect x="452.20" y="523.36" width="11.60" height="7.70" fill="#7a7a7a" stroke="#1e1e1e" stroke-width="0.85" rx="0.3"/>
<rect x="452.20" y="535.30" width="6.00" height="7.70" fill="#7a7a7a" stroke="#1e1e1e" stroke-width="0.85" rx="0.3"/>
<rect x="452.20" y="547.24" width="6.10" height="7.70" fill="#7a7a7a" stroke="#1e1e1e" stroke-width="0.85" rx="0.3"/>
<rect x="452.20" y="559.18" width="13.40" height="7.70" fill="#7a7a7a" stroke="#1e1e1e" stroke-width="0.85" rx="0.3"/>
<rect x="452.20" y="571.12" width="10.60" height="7.70" fill="#7a7a7a" stroke="#1e1e1e" stroke-width="0.85" rx="0.3"/>
<rect x="452.20" y="583.06" width="6.90" height="7.70" fill="#7a7a7a" stroke="#1e1e1e" stroke-width="0.85" rx="0.3"/>
<rect x="452.20" y="595.00" width="11.60" height="7.70" fill="#7a7a7a" stroke="#1e1e1e" stroke-width="0.85" rx="0.3"/>
<rect x="452.20" y="606.94" width="3.70" height="7.70" fill="#7a7a7a" stroke="#1e1e1e" stroke-width="0.85" rx="0.3"/>
<line x1="452.20" y1="617.00" x2="466.20" y2="617.00" stroke="#111" stroke-width="0.7"/>
<line x1="452.60" y1="617.00" x2="452.60" y2="618.20" stroke="#111" stroke-width="0.6"/>
<line x1="457.60" y1="617.00" x2="457.60" y2="618.20" stroke="#111" stroke-width="0.6"/>
<line x1="462.60" y1="617.00" x2="462.60" y2="618.20" stroke="#111" stroke-width="0.6"/>
<text transform="translate(453.70,619.20) rotate(-90)" font-size="3.3" text-anchor="end" fill="#444">0</text>
<text transform="translate(458.70,619.20) rotate(-90)" font-size="3.3" text-anchor="end" fill="#444">0.2</text>
<text transform="translate(463.70,619.20) rotate(-90)" font-size="3.3" text-anchor="end" fill="#444">0.4</text>
<text transform="translate(481.00,562.50) rotate(-90)" font-size="6.3" text-anchor="middle" fill="#222" stroke="#222">Relative strength</text>
<defs><linearGradient id="g484_548" x1="0" y1="1" x2="0" y2="0"><stop offset="0" stop-color="#F7FBFD"/><stop offset="0.35" stop-color="#CDE6DA"/><stop offset="0.7" stop-color="#5E9E66"/><stop offset="1" stop-color="#1E4A25"/></linearGradient></defs>
<rect x="484.40" y="548.30" width="3.40" height="28.20" fill="url(#g484_548)"/>
<text x="489.60" y="551.50" font-size="6.2" fill="#222" stroke="#222">1</text>
<text x="489.60" y="577.70" font-size="6.2" fill="#222" stroke="#222">0</text>
</svg>
</body></html>
